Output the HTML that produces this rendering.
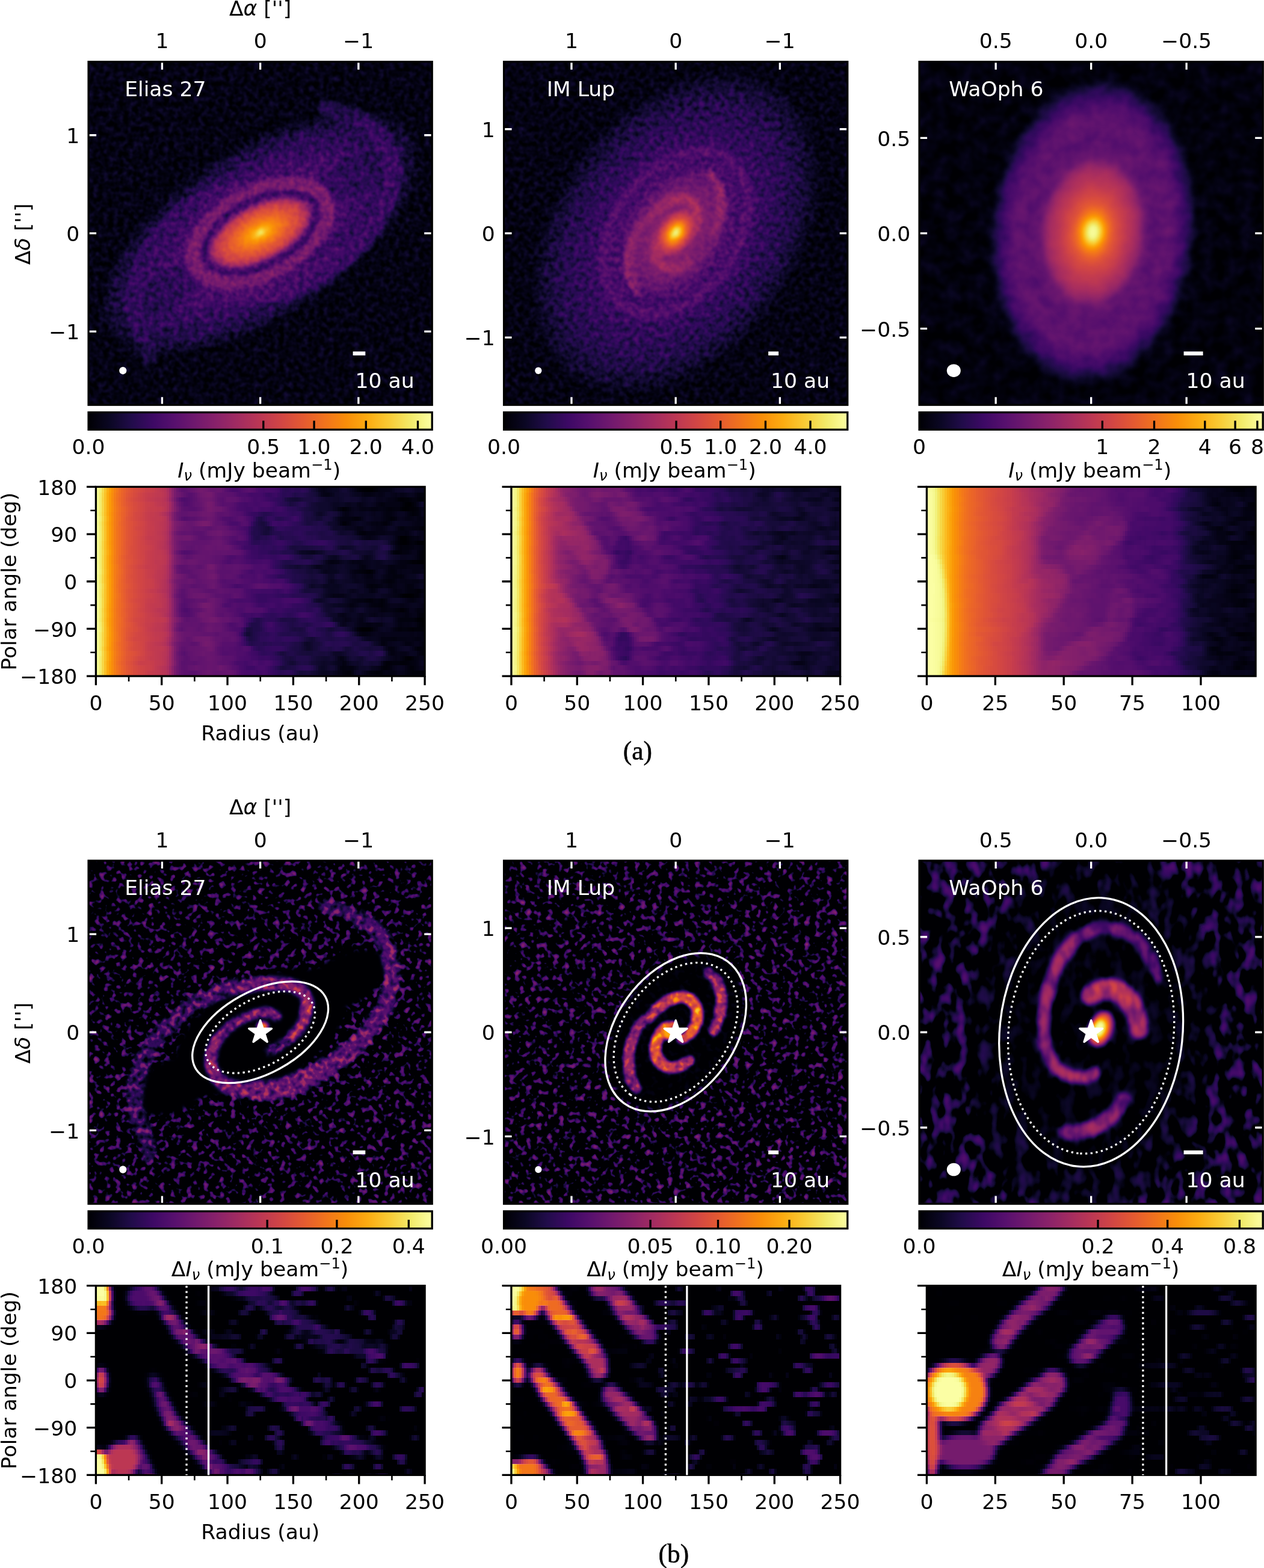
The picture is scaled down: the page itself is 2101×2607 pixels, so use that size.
<!DOCTYPE html>
<html lang="en"><head><meta charset="utf-8"><title>Spiral structure figure</title>
<style>html,body{margin:0;padding:0;background:#fff}svg{display:block}text{font-family:"DejaVu Sans","Liberation Sans",sans-serif;font-size:34.6px}.cap{font-family:"Liberation Serif","DejaVu Serif",serif;font-size:43.4px;stroke:#000;stroke-width:0.5px}</style></head><body>
<svg xmlns="http://www.w3.org/2000/svg" width="2101" height="2607" viewBox="0 0 2101 2607">
<defs><linearGradient id="inf" x1="0" x2="1" y1="0" y2="0"><stop offset="0" stop-color="#000004"/><stop offset="0.0625" stop-color="#0b0724"/><stop offset="0.125" stop-color="#210c4a"/><stop offset="0.1875" stop-color="#3d0965"/><stop offset="0.25" stop-color="#57106e"/><stop offset="0.3125" stop-color="#71196e"/><stop offset="0.375" stop-color="#8a226a"/><stop offset="0.4375" stop-color="#a32c61"/><stop offset="0.5" stop-color="#bc3754"/><stop offset="0.5625" stop-color="#d24644"/><stop offset="0.625" stop-color="#e45a31"/><stop offset="0.6875" stop-color="#f1731d"/><stop offset="0.75" stop-color="#f98e09"/><stop offset="0.8125" stop-color="#fcac11"/><stop offset="0.875" stop-color="#f9cb35"/><stop offset="0.9375" stop-color="#f2ea69"/><stop offset="1" stop-color="#fcffa4"/></linearGradient><filter id="cm" color-interpolation-filters="sRGB" filterUnits="userSpaceOnUse" x="-5" y="-5" width="600" height="600"><feComponentTransfer><feFuncR type="table" tableValues="0.001 0.014 0.042 0.082 0.129 0.183 0.238 0.291 0.342 0.391 0.441 0.491 0.541 0.591 0.64 0.689 0.736 0.781 0.822 0.861 0.894 0.923 0.947 0.965 0.978 0.986 0.988 0.984 0.975 0.961 0.948 0.955 0.988"/><feFuncG type="table" tableValues="0 0.011 0.028 0.043 0.047 0.04 0.037 0.046 0.062 0.081 0.099 0.117 0.135 0.153 0.171 0.192 0.216 0.243 0.275 0.312 0.353 0.399 0.449 0.502 0.558 0.616 0.675 0.736 0.798 0.859 0.917 0.966 0.998"/><feFuncB type="table" tableValues="0.014 0.072 0.141 0.215 0.291 0.355 0.396 0.419 0.429 0.433 0.432 0.426 0.415 0.4 0.381 0.358 0.33 0.3 0.266 0.231 0.194 0.155 0.115 0.074 0.035 0.026 0.065 0.13 0.206 0.298 0.411 0.54 0.645"/></feComponentTransfer></filter><filter id="px" filterUnits="userSpaceOnUse" x="0" y="0" width="550" height="324" color-interpolation-filters="sRGB"><feFlood x="2" y="4" width="1" height="1" flood-color="#000"/><feComposite width="5" height="9"/><feTile result="t"/><feComposite in="SourceGraphic" in2="t" operator="in"/><feMorphology operator="dilate" radius="2 4"/></filter><clipPath id="ci"><rect width="571.1" height="570.5"/></clipPath><clipPath id="cp"><rect width="546.7" height="314.7"/></clipPath><radialGradient id="a1o" cx="0" cy="0" r="1" gradientUnits="userSpaceOnUse"><stop offset="0" stop-color="#479900"/><stop offset="0.3" stop-color="#429900"/><stop offset="0.5" stop-color="#36b200"/><stop offset="0.7" stop-color="#2ab200"/><stop offset="0.85" stop-color="#1fb200"/><stop offset="0.95" stop-color="#129900"/><stop offset="1" stop-color="#088000"/></radialGradient><radialGradient id="a1i" cx="0" cy="0" r="1" gradientUnits="userSpaceOnUse"><stop offset="0" stop-color="#ff1a00"/><stop offset="0.04" stop-color="#f71a00"/><stop offset="0.1" stop-color="#db1a00"/><stop offset="0.25" stop-color="#c22600"/><stop offset="0.5" stop-color="#a83300"/><stop offset="0.75" stop-color="#914c00"/><stop offset="0.9" stop-color="#7d6600"/><stop offset="1" stop-color="#618000"/></radialGradient><linearGradient id="pa1" x1="0" x2="1" y1="0" y2="0"><stop offset="0" stop-color="#ff1a00"/><stop offset="0.012" stop-color="#f51a00"/><stop offset="0.032" stop-color="#d11a00"/><stop offset="0.06" stop-color="#b21a00"/><stop offset="0.1" stop-color="#991a00"/><stop offset="0.16" stop-color="#872600"/><stop offset="0.216" stop-color="#7d3300"/><stop offset="0.24" stop-color="#526600"/><stop offset="0.264" stop-color="#408000"/><stop offset="0.3" stop-color="#458000"/><stop offset="0.344" stop-color="#4c8000"/><stop offset="0.4" stop-color="#428000"/><stop offset="0.48" stop-color="#339900"/><stop offset="0.6" stop-color="#1f9900"/><stop offset="0.72" stop-color="#119900"/><stop offset="0.84" stop-color="#0b9900"/><stop offset="1" stop-color="#089900"/></linearGradient><radialGradient id="a2o" cx="0" cy="0" r="1" gradientUnits="userSpaceOnUse"><stop offset="0" stop-color="#479900"/><stop offset="0.3" stop-color="#409900"/><stop offset="0.45" stop-color="#33b200"/><stop offset="0.6" stop-color="#2ab200"/><stop offset="0.8" stop-color="#20b200"/><stop offset="0.92" stop-color="#149900"/><stop offset="1" stop-color="#088000"/></radialGradient><radialGradient id="a2i" cx="0" cy="0" r="1" gradientUnits="userSpaceOnUse"><stop offset="0" stop-color="#614c00"/><stop offset="0.5" stop-color="#594c00"/><stop offset="0.8" stop-color="#4f6600"/><stop offset="0.93" stop-color="#458000"/><stop offset="1" stop-color="#3d9900"/></radialGradient><radialGradient id="a2c" cx="0" cy="0" r="1" gradientUnits="userSpaceOnUse"><stop offset="0" stop-color="#ff1a00"/><stop offset="0.1" stop-color="#f71a00"/><stop offset="0.25" stop-color="#d91a00"/><stop offset="0.45" stop-color="#b22600"/><stop offset="0.7" stop-color="#8f3300"/><stop offset="0.9" stop-color="#784000"/><stop offset="1" stop-color="#6b4c00"/></radialGradient><linearGradient id="pa2" x1="0" x2="1" y1="0" y2="0"><stop offset="0" stop-color="#ff1a00"/><stop offset="0.016" stop-color="#f71a00"/><stop offset="0.032" stop-color="#d91a00"/><stop offset="0.056" stop-color="#b81a00"/><stop offset="0.08" stop-color="#991a00"/><stop offset="0.112" stop-color="#803300"/><stop offset="0.144" stop-color="#664c00"/><stop offset="0.192" stop-color="#546600"/><stop offset="0.24" stop-color="#4a8000"/><stop offset="0.3" stop-color="#428000"/><stop offset="0.4" stop-color="#3c8000"/><stop offset="0.5" stop-color="#369900"/><stop offset="0.6" stop-color="#2b9900"/><stop offset="0.68" stop-color="#1f9900"/><stop offset="0.8" stop-color="#179900"/><stop offset="1" stop-color="#129900"/></linearGradient><radialGradient id="a3o" cx="0" cy="0" r="1" gradientUnits="userSpaceOnUse"><stop offset="0" stop-color="#594c00"/><stop offset="0.45" stop-color="#4f4c00"/><stop offset="0.6" stop-color="#406600"/><stop offset="0.68" stop-color="#456600"/><stop offset="0.78" stop-color="#426600"/><stop offset="0.86" stop-color="#338000"/><stop offset="0.93" stop-color="#218000"/><stop offset="1" stop-color="#058000"/></radialGradient><radialGradient id="a3i" cx="0" cy="0" r="1" gradientUnits="userSpaceOnUse"><stop offset="0" stop-color="#ff0d00"/><stop offset="0.1" stop-color="#fa0d00"/><stop offset="0.17" stop-color="#db0d00"/><stop offset="0.26" stop-color="#b81a00"/><stop offset="0.4" stop-color="#9c1a00"/><stop offset="0.6" stop-color="#872600"/><stop offset="0.8" stop-color="#753300"/><stop offset="0.92" stop-color="#664000"/><stop offset="1" stop-color="#544c00"/></radialGradient><linearGradient id="pa3" x1="0" x2="1" y1="0" y2="0"><stop offset="0" stop-color="#ff0d00"/><stop offset="0.017" stop-color="#ff0d00"/><stop offset="0.042" stop-color="#e60d00"/><stop offset="0.075" stop-color="#c70d00"/><stop offset="0.117" stop-color="#ad1a00"/><stop offset="0.183" stop-color="#991a00"/><stop offset="0.25" stop-color="#8a1a00"/><stop offset="0.308" stop-color="#782600"/><stop offset="0.35" stop-color="#613300"/><stop offset="0.417" stop-color="#4f4c00"/><stop offset="0.517" stop-color="#474c00"/><stop offset="0.583" stop-color="#406600"/><stop offset="0.667" stop-color="#3b6600"/><stop offset="0.75" stop-color="#308000"/><stop offset="0.8" stop-color="#1a9900"/><stop offset="0.867" stop-color="#0d9900"/><stop offset="1" stop-color="#089900"/></linearGradient><linearGradient id="pb1m" x1="0" x2="1" y1="0" y2="0"><stop offset="0" stop-color="#000000"/><stop offset="0.3" stop-color="#000000"/><stop offset="0.42" stop-color="#008000"/><stop offset="0.55" stop-color="#00e600"/><stop offset="1" stop-color="#00e600"/></linearGradient><linearGradient id="pb2m" x1="0" x2="1" y1="0" y2="0"><stop offset="0" stop-color="#000000"/><stop offset="0.36" stop-color="#001a00"/><stop offset="0.5" stop-color="#00e600"/><stop offset="1" stop-color="#00ff00"/></linearGradient><linearGradient id="pb3m" x1="0" x2="1" y1="0" y2="0"><stop offset="0" stop-color="#000000"/><stop offset="0.6" stop-color="#001a00"/><stop offset="0.72" stop-color="#009900"/><stop offset="1" stop-color="#00cc00"/></linearGradient><filter id="na1" filterUnits="userSpaceOnUse" x="-30" y="-30" width="631.1" height="630.5" color-interpolation-filters="sRGB"><feGaussianBlur in="SourceGraphic" stdDeviation="3.0" result="S"/><feColorMatrix in="S" type="matrix" values="1 0 0 0 0 1 0 0 0 0 1 0 0 0 0 0 0 0 0 1" result="I"/><feColorMatrix in="S" type="matrix" values="0 1 0 0 0 0 1 0 0 0 0 1 0 0 0 0 0 0 0 1" result="M"/><feTurbulence type="fractalNoise" baseFrequency="0.12" numOctaves="2" seed="3" result="T"/><feGaussianBlur in="T" stdDeviation="1.0" result="T"/><feColorMatrix in="T" type="matrix" values="0.38 0 0 0 -0.19 0.38 0 0 0 -0.19 0.38 0 0 0 -0.19 0 0 0 0 1" result="P"/><feComposite in="P" in2="M" operator="arithmetic" k1="1" k2="0" k3="0" k4="0" result="PM"/><feComposite in="I" in2="PM" operator="arithmetic" k1="0" k2="1" k3="1" k4="0" result="O1"/><feColorMatrix in="T" type="matrix" values="-0.38 0 0 0 0.19 -0.38 0 0 0 0.19 -0.38 0 0 0 0.19 0 0 0 0 1" result="Q"/><feComposite in="Q" in2="M" operator="arithmetic" k1="1" k2="0" k3="0" k4="0"/><feColorMatrix type="matrix" values="-1 0 0 0 1 -1 0 0 0 1 -1 0 0 0 1 0 0 0 0 1" result="QM"/><feComposite in="O1" in2="QM" operator="arithmetic" k1="0" k2="1" k3="1" k4="-1" result="O2"/></filter><filter id="na2" filterUnits="userSpaceOnUse" x="-30" y="-30" width="631.1" height="630.5" color-interpolation-filters="sRGB"><feGaussianBlur in="SourceGraphic" stdDeviation="3.0" result="S"/><feColorMatrix in="S" type="matrix" values="1 0 0 0 0 1 0 0 0 0 1 0 0 0 0 0 0 0 0 1" result="I"/><feColorMatrix in="S" type="matrix" values="0 1 0 0 0 0 1 0 0 0 0 1 0 0 0 0 0 0 0 1" result="M"/><feTurbulence type="fractalNoise" baseFrequency="0.12" numOctaves="2" seed="7" result="T"/><feGaussianBlur in="T" stdDeviation="1.0" result="T"/><feColorMatrix in="T" type="matrix" values="0.38 0 0 0 -0.19 0.38 0 0 0 -0.19 0.38 0 0 0 -0.19 0 0 0 0 1" result="P"/><feComposite in="P" in2="M" operator="arithmetic" k1="1" k2="0" k3="0" k4="0" result="PM"/><feComposite in="I" in2="PM" operator="arithmetic" k1="0" k2="1" k3="1" k4="0" result="O1"/><feColorMatrix in="T" type="matrix" values="-0.38 0 0 0 0.19 -0.38 0 0 0 0.19 -0.38 0 0 0 0.19 0 0 0 0 1" result="Q"/><feComposite in="Q" in2="M" operator="arithmetic" k1="1" k2="0" k3="0" k4="0"/><feColorMatrix type="matrix" values="-1 0 0 0 1 -1 0 0 0 1 -1 0 0 0 1 0 0 0 0 1" result="QM"/><feComposite in="O1" in2="QM" operator="arithmetic" k1="0" k2="1" k3="1" k4="-1" result="O2"/></filter><filter id="na3" filterUnits="userSpaceOnUse" x="-30" y="-30" width="631.1" height="630.5" color-interpolation-filters="sRGB"><feGaussianBlur in="SourceGraphic" stdDeviation="5" result="S"/><feColorMatrix in="S" type="matrix" values="1 0 0 0 0 1 0 0 0 0 1 0 0 0 0 0 0 0 0 1" result="I"/><feColorMatrix in="S" type="matrix" values="0 1 0 0 0 0 1 0 0 0 0 1 0 0 0 0 0 0 0 1" result="M"/><feTurbulence type="fractalNoise" baseFrequency="0.045" numOctaves="2" seed="11" result="T"/><feColorMatrix in="T" type="matrix" values="0.22 0 0 0 -0.11 0.22 0 0 0 -0.11 0.22 0 0 0 -0.11 0 0 0 0 1" result="P"/><feComposite in="P" in2="M" operator="arithmetic" k1="1" k2="0" k3="0" k4="0" result="PM"/><feComposite in="I" in2="PM" operator="arithmetic" k1="0" k2="1" k3="1" k4="0" result="O1"/><feColorMatrix in="T" type="matrix" values="-0.22 0 0 0 0.11 -0.22 0 0 0 0.11 -0.22 0 0 0 0.11 0 0 0 0 1" result="Q"/><feComposite in="Q" in2="M" operator="arithmetic" k1="1" k2="0" k3="0" k4="0"/><feColorMatrix type="matrix" values="-1 0 0 0 1 -1 0 0 0 1 -1 0 0 0 1 0 0 0 0 1" result="QM"/><feComposite in="O1" in2="QM" operator="arithmetic" k1="0" k2="1" k3="1" k4="-1" result="O2"/></filter><filter id="npa1" filterUnits="userSpaceOnUse" x="-30" y="-30" width="606.7" height="374.7" color-interpolation-filters="sRGB"><feGaussianBlur in="SourceGraphic" stdDeviation="4" result="S"/><feColorMatrix in="S" type="matrix" values="1 0 0 0 0 1 0 0 0 0 1 0 0 0 0 0 0 0 0 1" result="I"/><feColorMatrix in="S" type="matrix" values="0 1 0 0 0 0 1 0 0 0 0 1 0 0 0 0 0 0 0 1" result="M"/><feTurbulence type="fractalNoise" baseFrequency="0.03 0.07" numOctaves="2" seed="5" result="T"/><feColorMatrix in="T" type="matrix" values="0.25 0 0 0 -0.125 0.25 0 0 0 -0.125 0.25 0 0 0 -0.125 0 0 0 0 1" result="P"/><feComposite in="P" in2="M" operator="arithmetic" k1="1" k2="0" k3="0" k4="0" result="PM"/><feComposite in="I" in2="PM" operator="arithmetic" k1="0" k2="1" k3="1" k4="0" result="O1"/><feColorMatrix in="T" type="matrix" values="-0.25 0 0 0 0.125 -0.25 0 0 0 0.125 -0.25 0 0 0 0.125 0 0 0 0 1" result="Q"/><feComposite in="Q" in2="M" operator="arithmetic" k1="1" k2="0" k3="0" k4="0"/><feColorMatrix type="matrix" values="-1 0 0 0 1 -1 0 0 0 1 -1 0 0 0 1 0 0 0 0 1" result="QM"/><feComposite in="O1" in2="QM" operator="arithmetic" k1="0" k2="1" k3="1" k4="-1" result="O2"/></filter><filter id="npa2" filterUnits="userSpaceOnUse" x="-30" y="-30" width="606.7" height="374.7" color-interpolation-filters="sRGB"><feGaussianBlur in="SourceGraphic" stdDeviation="4" result="S"/><feColorMatrix in="S" type="matrix" values="1 0 0 0 0 1 0 0 0 0 1 0 0 0 0 0 0 0 0 1" result="I"/><feColorMatrix in="S" type="matrix" values="0 1 0 0 0 0 1 0 0 0 0 1 0 0 0 0 0 0 0 1" result="M"/><feTurbulence type="fractalNoise" baseFrequency="0.03 0.07" numOctaves="2" seed="8" result="T"/><feColorMatrix in="T" type="matrix" values="0.25 0 0 0 -0.125 0.25 0 0 0 -0.125 0.25 0 0 0 -0.125 0 0 0 0 1" result="P"/><feComposite in="P" in2="M" operator="arithmetic" k1="1" k2="0" k3="0" k4="0" result="PM"/><feComposite in="I" in2="PM" operator="arithmetic" k1="0" k2="1" k3="1" k4="0" result="O1"/><feColorMatrix in="T" type="matrix" values="-0.25 0 0 0 0.125 -0.25 0 0 0 0.125 -0.25 0 0 0 0.125 0 0 0 0 1" result="Q"/><feComposite in="Q" in2="M" operator="arithmetic" k1="1" k2="0" k3="0" k4="0"/><feColorMatrix type="matrix" values="-1 0 0 0 1 -1 0 0 0 1 -1 0 0 0 1 0 0 0 0 1" result="QM"/><feComposite in="O1" in2="QM" operator="arithmetic" k1="0" k2="1" k3="1" k4="-1" result="O2"/></filter><filter id="npa3" filterUnits="userSpaceOnUse" x="-30" y="-30" width="606.7" height="374.7" color-interpolation-filters="sRGB"><feGaussianBlur in="SourceGraphic" stdDeviation="5" result="S"/><feColorMatrix in="S" type="matrix" values="1 0 0 0 0 1 0 0 0 0 1 0 0 0 0 0 0 0 0 1" result="I"/><feColorMatrix in="S" type="matrix" values="0 1 0 0 0 0 1 0 0 0 0 1 0 0 0 0 0 0 0 1" result="M"/><feTurbulence type="fractalNoise" baseFrequency="0.03 0.07" numOctaves="2" seed="9" result="T"/><feColorMatrix in="T" type="matrix" values="0.2 0 0 0 -0.1 0.2 0 0 0 -0.1 0.2 0 0 0 -0.1 0 0 0 0 1" result="P"/><feComposite in="P" in2="M" operator="arithmetic" k1="1" k2="0" k3="0" k4="0" result="PM"/><feComposite in="I" in2="PM" operator="arithmetic" k1="0" k2="1" k3="1" k4="0" result="O1"/><feColorMatrix in="T" type="matrix" values="-0.2 0 0 0 0.1 -0.2 0 0 0 0.1 -0.2 0 0 0 0.1 0 0 0 0 1" result="Q"/><feComposite in="Q" in2="M" operator="arithmetic" k1="1" k2="0" k3="0" k4="0"/><feColorMatrix type="matrix" values="-1 0 0 0 1 -1 0 0 0 1 -1 0 0 0 1 0 0 0 0 1" result="QM"/><feComposite in="O1" in2="QM" operator="arithmetic" k1="0" k2="1" k3="1" k4="-1" result="O2"/></filter><filter id="nb1" filterUnits="userSpaceOnUse" x="-30" y="-30" width="631.1" height="630.5" color-interpolation-filters="sRGB"><feGaussianBlur in="SourceGraphic" stdDeviation="3.0" result="S"/><feColorMatrix in="S" type="matrix" values="1 0 0 0 0 1 0 0 0 0 1 0 0 0 0 0 0 0 0 1" result="I"/><feColorMatrix in="S" type="matrix" values="0 1 0 0 0 0 1 0 0 0 0 1 0 0 0 0 0 0 0 1" result="M"/><feTurbulence type="fractalNoise" baseFrequency="0.11" numOctaves="2" seed="21" result="T"/><feGaussianBlur in="T" stdDeviation="1.2" result="T"/><feColorMatrix in="T" type="matrix" values="2.6 0 0 0 -1.417 2.6 0 0 0 -1.417 2.6 0 0 0 -1.417 0 0 0 0 1" result="P"/><feComponentTransfer in="P" result="P"><feFuncR type="table" tableValues="0 0.1 0.17 0.22 0.26 0.29 0.32 0.35 0.38 0.4 0.42"/><feFuncG type="table" tableValues="0 0.1 0.17 0.22 0.26 0.29 0.32 0.35 0.38 0.4 0.42"/><feFuncB type="table" tableValues="0 0.1 0.17 0.22 0.26 0.29 0.32 0.35 0.38 0.4 0.42"/></feComponentTransfer><feComposite in="P" in2="M" operator="arithmetic" k1="1" k2="0" k3="0" k4="0" result="PM"/><feComposite in="I" in2="PM" operator="arithmetic" k1="0" k2="1" k3="1" k4="0" result="O1"/><feColorMatrix in="T" type="matrix" values="-0.9 0 0 0 0.45 -0.9 0 0 0 0.45 -0.9 0 0 0 0.45 0 0 0 0 1" result="Q"/><feComposite in="Q" in2="M" operator="arithmetic" k1="1" k2="0" k3="0" k4="0"/><feColorMatrix type="matrix" values="-1 0 0 0 1 -1 0 0 0 1 -1 0 0 0 1 0 0 0 0 1" result="QM"/><feComposite in="O1" in2="QM" operator="arithmetic" k1="0" k2="1" k3="1" k4="-1" result="O2"/></filter><filter id="nb2" filterUnits="userSpaceOnUse" x="-30" y="-30" width="631.1" height="630.5" color-interpolation-filters="sRGB"><feGaussianBlur in="SourceGraphic" stdDeviation="2.5" result="S"/><feColorMatrix in="S" type="matrix" values="1 0 0 0 0 1 0 0 0 0 1 0 0 0 0 0 0 0 0 1" result="I"/><feColorMatrix in="S" type="matrix" values="0 1 0 0 0 0 1 0 0 0 0 1 0 0 0 0 0 0 0 1" result="M"/><feTurbulence type="fractalNoise" baseFrequency="0.11" numOctaves="2" seed="31" result="T"/><feGaussianBlur in="T" stdDeviation="1.2" result="T"/><feColorMatrix in="T" type="matrix" values="2.7 0 0 0 -1.458 2.7 0 0 0 -1.458 2.7 0 0 0 -1.458 0 0 0 0 1" result="P"/><feComponentTransfer in="P" result="P"><feFuncR type="table" tableValues="0 0.1 0.17 0.22 0.26 0.29 0.32 0.35 0.38 0.4 0.42"/><feFuncG type="table" tableValues="0 0.1 0.17 0.22 0.26 0.29 0.32 0.35 0.38 0.4 0.42"/><feFuncB type="table" tableValues="0 0.1 0.17 0.22 0.26 0.29 0.32 0.35 0.38 0.4 0.42"/></feComponentTransfer><feComposite in="P" in2="M" operator="arithmetic" k1="1" k2="0" k3="0" k4="0" result="PM"/><feComposite in="I" in2="PM" operator="arithmetic" k1="0" k2="1" k3="1" k4="0" result="O1"/><feColorMatrix in="T" type="matrix" values="-0.9 0 0 0 0.45 -0.9 0 0 0 0.45 -0.9 0 0 0 0.45 0 0 0 0 1" result="Q"/><feComposite in="Q" in2="M" operator="arithmetic" k1="1" k2="0" k3="0" k4="0"/><feColorMatrix type="matrix" values="-1 0 0 0 1 -1 0 0 0 1 -1 0 0 0 1 0 0 0 0 1" result="QM"/><feComposite in="O1" in2="QM" operator="arithmetic" k1="0" k2="1" k3="1" k4="-1" result="O2"/></filter><filter id="nb3" filterUnits="userSpaceOnUse" x="-30" y="-30" width="631.1" height="630.5" color-interpolation-filters="sRGB"><feGaussianBlur in="SourceGraphic" stdDeviation="4.5" result="S"/><feColorMatrix in="S" type="matrix" values="1 0 0 0 0 1 0 0 0 0 1 0 0 0 0 0 0 0 0 1" result="I"/><feColorMatrix in="S" type="matrix" values="0 1 0 0 0 0 1 0 0 0 0 1 0 0 0 0 0 0 0 1" result="M"/><feTurbulence type="fractalNoise" baseFrequency="0.05 0.033" numOctaves="2" seed="41" result="T"/><feColorMatrix in="T" type="matrix" values="1.6 0 0 0 -0.8 1.6 0 0 0 -0.8 1.6 0 0 0 -0.8 0 0 0 0 1" result="P"/><feComponentTransfer in="P" result="P"><feFuncR type="table" tableValues="0 0.09 0.14 0.18 0.21 0.23 0.25 0.26 0.27 0.28 0.29"/><feFuncG type="table" tableValues="0 0.09 0.14 0.18 0.21 0.23 0.25 0.26 0.27 0.28 0.29"/><feFuncB type="table" tableValues="0 0.09 0.14 0.18 0.21 0.23 0.25 0.26 0.27 0.28 0.29"/></feComponentTransfer><feComposite in="P" in2="M" operator="arithmetic" k1="1" k2="0" k3="0" k4="0" result="PM"/><feComposite in="I" in2="PM" operator="arithmetic" k1="0" k2="1" k3="1" k4="0" result="O1"/><feColorMatrix in="T" type="matrix" values="-1 0 0 0 0.5 -1 0 0 0 0.5 -1 0 0 0 0.5 0 0 0 0 1" result="Q"/><feComposite in="Q" in2="M" operator="arithmetic" k1="1" k2="0" k3="0" k4="0"/><feColorMatrix type="matrix" values="-1 0 0 0 1 -1 0 0 0 1 -1 0 0 0 1 0 0 0 0 1" result="QM"/><feComposite in="O1" in2="QM" operator="arithmetic" k1="0" k2="1" k3="1" k4="-1" result="O2"/></filter><filter id="npb1" filterUnits="userSpaceOnUse" x="-30" y="-30" width="606.7" height="374.7" color-interpolation-filters="sRGB"><feGaussianBlur in="SourceGraphic" stdDeviation="4.0" result="S"/><feColorMatrix in="S" type="matrix" values="1 0 0 0 0 1 0 0 0 0 1 0 0 0 0 0 0 0 0 1" result="I"/><feColorMatrix in="S" type="matrix" values="0 1 0 0 0 0 1 0 0 0 0 1 0 0 0 0 0 0 0 1" result="M"/><feTurbulence type="fractalNoise" baseFrequency="0.025 0.08" numOctaves="2" seed="51" result="T"/><feColorMatrix in="T" type="matrix" values="2 0 0 0 -1.22 2 0 0 0 -1.22 2 0 0 0 -1.22 0 0 0 0 1" result="P"/><feComponentTransfer in="P" result="P"><feFuncR type="table" tableValues="0 0.1 0.16 0.2 0.23 0.25 0.27 0.28 0.29 0.3 0.3"/><feFuncG type="table" tableValues="0 0.1 0.16 0.2 0.23 0.25 0.27 0.28 0.29 0.3 0.3"/><feFuncB type="table" tableValues="0 0.1 0.16 0.2 0.23 0.25 0.27 0.28 0.29 0.3 0.3"/></feComponentTransfer><feComposite in="P" in2="M" operator="arithmetic" k1="1" k2="0" k3="0" k4="0" result="PM"/><feComposite in="I" in2="PM" operator="arithmetic" k1="0" k2="1" k3="1" k4="0" result="O1"/><feColorMatrix in="T" type="matrix" values="-0.8 0 0 0 0.4 -0.8 0 0 0 0.4 -0.8 0 0 0 0.4 0 0 0 0 1" result="Q"/><feComposite in="Q" in2="M" operator="arithmetic" k1="1" k2="0" k3="0" k4="0"/><feColorMatrix type="matrix" values="-1 0 0 0 1 -1 0 0 0 1 -1 0 0 0 1 0 0 0 0 1" result="QM"/><feComposite in="O1" in2="QM" operator="arithmetic" k1="0" k2="1" k3="1" k4="-1" result="O2"/></filter><filter id="npb2" filterUnits="userSpaceOnUse" x="-30" y="-30" width="606.7" height="374.7" color-interpolation-filters="sRGB"><feGaussianBlur in="SourceGraphic" stdDeviation="4.0" result="S"/><feColorMatrix in="S" type="matrix" values="1 0 0 0 0 1 0 0 0 0 1 0 0 0 0 0 0 0 0 1" result="I"/><feColorMatrix in="S" type="matrix" values="0 1 0 0 0 0 1 0 0 0 0 1 0 0 0 0 0 0 0 1" result="M"/><feTurbulence type="fractalNoise" baseFrequency="0.025 0.08" numOctaves="2" seed="61" result="T"/><feColorMatrix in="T" type="matrix" values="2 0 0 0 -1.18 2 0 0 0 -1.18 2 0 0 0 -1.18 0 0 0 0 1" result="P"/><feComponentTransfer in="P" result="P"><feFuncR type="table" tableValues="0 0.1 0.17 0.21 0.24 0.26 0.28 0.29 0.3 0.31 0.32"/><feFuncG type="table" tableValues="0 0.1 0.17 0.21 0.24 0.26 0.28 0.29 0.3 0.31 0.32"/><feFuncB type="table" tableValues="0 0.1 0.17 0.21 0.24 0.26 0.28 0.29 0.3 0.31 0.32"/></feComponentTransfer><feComposite in="P" in2="M" operator="arithmetic" k1="1" k2="0" k3="0" k4="0" result="PM"/><feComposite in="I" in2="PM" operator="arithmetic" k1="0" k2="1" k3="1" k4="0" result="O1"/><feColorMatrix in="T" type="matrix" values="-0.8 0 0 0 0.4 -0.8 0 0 0 0.4 -0.8 0 0 0 0.4 0 0 0 0 1" result="Q"/><feComposite in="Q" in2="M" operator="arithmetic" k1="1" k2="0" k3="0" k4="0"/><feColorMatrix type="matrix" values="-1 0 0 0 1 -1 0 0 0 1 -1 0 0 0 1 0 0 0 0 1" result="QM"/><feComposite in="O1" in2="QM" operator="arithmetic" k1="0" k2="1" k3="1" k4="-1" result="O2"/></filter><filter id="npb3" filterUnits="userSpaceOnUse" x="-30" y="-30" width="606.7" height="374.7" color-interpolation-filters="sRGB"><feGaussianBlur in="SourceGraphic" stdDeviation="4.5" result="S"/><feColorMatrix in="S" type="matrix" values="1 0 0 0 0 1 0 0 0 0 1 0 0 0 0 0 0 0 0 1" result="I"/><feColorMatrix in="S" type="matrix" values="0 1 0 0 0 0 1 0 0 0 0 1 0 0 0 0 0 0 0 1" result="M"/><feTurbulence type="fractalNoise" baseFrequency="0.025 0.08" numOctaves="2" seed="71" result="T"/><feColorMatrix in="T" type="matrix" values="1.5 0 0 0 -0.9 1.5 0 0 0 -0.9 1.5 0 0 0 -0.9 0 0 0 0 1" result="P"/><feComponentTransfer in="P" result="P"><feFuncR type="table" tableValues="0 0.08 0.13 0.17 0.2 0.22 0.24 0.25 0.26 0.27 0.28"/><feFuncG type="table" tableValues="0 0.08 0.13 0.17 0.2 0.22 0.24 0.25 0.26 0.27 0.28"/><feFuncB type="table" tableValues="0 0.08 0.13 0.17 0.2 0.22 0.24 0.25 0.26 0.27 0.28"/></feComponentTransfer><feComposite in="P" in2="M" operator="arithmetic" k1="1" k2="0" k3="0" k4="0" result="PM"/><feComposite in="I" in2="PM" operator="arithmetic" k1="0" k2="1" k3="1" k4="0" result="O1"/><feColorMatrix in="T" type="matrix" values="-0.8 0 0 0 0.4 -0.8 0 0 0 0.4 -0.8 0 0 0 0.4 0 0 0 0 1" result="Q"/><feComposite in="Q" in2="M" operator="arithmetic" k1="1" k2="0" k3="0" k4="0"/><feColorMatrix type="matrix" values="-1 0 0 0 1 -1 0 0 0 1 -1 0 0 0 1 0 0 0 0 1" result="QM"/><feComposite in="O1" in2="QM" operator="arithmetic" k1="0" k2="1" k3="1" k4="-1" result="O2"/></filter></defs>
<rect width="2101" height="2607" fill="#fff"/>
<g transform="translate(147.1 102.7)">
<g clip-path="url(#ci)"><g filter="url(#cm)"><g filter="url(#na1)"><rect x="-30" y="-30" width="631.1" height="630.5" fill="#088000"/><circle r="1" fill="url(#a1o)" transform="translate(285.55 284.25) rotate(-33) scale(305 142)"/><ellipse cx="435.55" cy="192.25" rx="70" ry="30" fill="#1a9900" transform="rotate(-30 435.55 192.25)" opacity="0.45"/><ellipse cx="135.55" cy="376.25" rx="70" ry="30" fill="#1a9900" transform="rotate(-30 135.55 376.25)" opacity="0.45"/><g opacity=".55" style="mix-blend-mode:lighten"><path d="M312.1 259L310.2 256.8L307.6 255L304.3 253.5L300.4 252.4L295.9 251.8" fill="none" stroke="#469900" stroke-width="16.85" stroke-linecap="round" stroke-linejoin="round"/><path d="M295.9 251.8L291.3 252L286.4 252.6L281.2 253.7L275.7 255.2L270.1 257.2" fill="none" stroke="#459900" stroke-width="16.85" stroke-linecap="round" stroke-linejoin="round"/><path d="M270.1 257.2L263.5 259.6L256.7 262.6L249.8 266.3" fill="none" stroke="#409900" stroke-width="16.85" stroke-linecap="round" stroke-linejoin="round"/><path d="M249.8 266.3L242.5 270.7L235.3 275.8L228.5 281.5L222.2 287.7L216.5 294.4" fill="none" stroke="#409900" stroke-width="17.78" stroke-linecap="round" stroke-linejoin="round"/><path d="M216.5 294.4L212.5 300.3L209.2 306.5L206.6 312.7L205 318.8L204.2 324.9" fill="none" stroke="#4a9900" stroke-width="19.66" stroke-linecap="round" stroke-linejoin="round"/><path d="M204.2 324.9L203.2 332.6L203.7 340.1L205.9 347.2L209.7 353.7" fill="none" stroke="#4b9900" stroke-width="21.53" stroke-linecap="round" stroke-linejoin="round"/><path d="M209.7 353.7L214 361.5L220.7 368.4L229.8 374" fill="none" stroke="#429900" stroke-width="24.34" stroke-linecap="round" stroke-linejoin="round"/><path d="M229.8 374L239.3 378L250.6 380.7L263.6 382.1L278.1 382.1" fill="none" stroke="#409900" stroke-width="29.95" stroke-linecap="round" stroke-linejoin="round"/><path d="M278.1 382.1L297.6 382.5L319.8 380.2" fill="none" stroke="#409900" stroke-width="37.44" stroke-linecap="round" stroke-linejoin="round"/><path d="M319.8 380.2L338.7 373.6L358 365.4L377.5 355.6L396.7 344.3" fill="none" stroke="#3e9900" stroke-width="39.31" stroke-linecap="round" stroke-linejoin="round"/><path d="M396.7 344.3L418.3 329.1L438.7 312.3L457.5 293.9" fill="none" stroke="#3b9900" stroke-width="34.63" stroke-linecap="round" stroke-linejoin="round"/><path d="M457.5 293.9L473.7 273.6L487.1 252.7L497.2 231.4" fill="none" stroke="#399900" stroke-width="30.89" stroke-linecap="round" stroke-linejoin="round"/><path d="M497.2 231.4L502.5 214.3L505.2 197.5L505.3 181.3L502.6 165.9" fill="none" stroke="#399900" stroke-width="29.95" stroke-linecap="round" stroke-linejoin="round"/><path d="M502.6 165.9L499.3 150.9L493.3 136.9L484.4 124" fill="none" stroke="#399900" stroke-width="29.95" stroke-linecap="round" stroke-linejoin="round"/><path d="M484.4 124L467.9 107.3L445.6 94" fill="none" stroke="#369900" stroke-width="29.02" stroke-linecap="round" stroke-linejoin="round"/><path d="M445.6 94L422.5 83.7L394.9 76.8" fill="none" stroke="#309900" stroke-width="27.14" stroke-linecap="round" stroke-linejoin="round"/><path d="M302.5 316.1L309.4 313L316.2 309.3L322.9 305.1L329.3 300.4L335.3 295.3L340.9 289.8" fill="none" stroke="#329900" stroke-width="17.78" stroke-linecap="round" stroke-linejoin="round"/><path d="M340.9 289.8L346.3 284.1L351 278L355 271.8L358.1 265.4L360.3 259L361.5 252.7" fill="none" stroke="#4b9900" stroke-width="19.66" stroke-linecap="round" stroke-linejoin="round"/><path d="M361.5 252.7L363.4 245.4L363.9 238.1L362.9 231.1L360.4 224.6L356.2 218.6" fill="none" stroke="#529900" stroke-width="21.53" stroke-linecap="round" stroke-linejoin="round"/><path d="M356.2 218.6L350.1 213.6L342.5 209.5L333.4 206.5L322.7 204.7L310.8 204.1" fill="none" stroke="#479900" stroke-width="23.4" stroke-linecap="round" stroke-linejoin="round"/><path d="M310.8 204.1L299.3 203.5L286.6 204.1L272.8 206L258.1 209.3" fill="none" stroke="#429900" stroke-width="25.27" stroke-linecap="round" stroke-linejoin="round"/><path d="M258.1 209.3L241.7 211.1L223.8 214.9" fill="none" stroke="#3c9900" stroke-width="27.14" stroke-linecap="round" stroke-linejoin="round"/><path d="M223.8 214.9L206.4 221.9L188.6 230.6L170.8 240.7" fill="none" stroke="#369900" stroke-width="29.02" stroke-linecap="round" stroke-linejoin="round"/><path d="M170.8 240.7L154.6 253.3L139.5 267L125.5 281.5L113.1 296.7" fill="none" stroke="#319900" stroke-width="30.89" stroke-linecap="round" stroke-linejoin="round"/><path d="M113.1 296.7L102 312.4L92.9 328.5L85.9 344.8L81.1 361" fill="none" stroke="#2f9900" stroke-width="31.82" stroke-linecap="round" stroke-linejoin="round"/><path d="M81.1 361L76.8 378.8L75.6 396.3L77.6 413.1" fill="none" stroke="#2e9900" stroke-width="31.82" stroke-linecap="round" stroke-linejoin="round"/><path d="M77.6 413.1L81.7 432.4L90.6 450.2" fill="none" stroke="#2e9900" stroke-width="30.89" stroke-linecap="round" stroke-linejoin="round"/><path d="M90.6 450.2L98.9 473.6" fill="none" stroke="#2d9900" stroke-width="29.02" stroke-linecap="round" stroke-linejoin="round"/><path d="M98.9 473.6L99.4 491.7" fill="none" stroke="#2b9900" stroke-width="27.14" stroke-linecap="round" stroke-linejoin="round"/></g><ellipse cx="285.55" cy="284.25" rx="122" ry="65.88" fill="none" stroke="#549900" stroke-width="24" transform="rotate(-27 285.55 284.25)"/><ellipse cx="285.55" cy="284.25" rx="102" ry="55.08" fill="none" stroke="#2b9900" stroke-width="9" transform="rotate(-27 285.55 284.25)"/><circle r="1" fill="url(#a1i)" transform="translate(285.55 284.25) rotate(-27) scale(90 45)"/></g></g></g>
</g>
<path d="M269.45 102.7v13.0M269.45 673.2v-13.0M147.1 224.75h13.0M718.2 224.75h-13.0M432.65 102.7v13.0M432.65 673.2v-13.0M147.1 387.95h13.0M718.2 387.95h-13.0M595.85 102.7v13.0M595.85 673.2v-13.0M147.1 551.15h13.0M718.2 551.15h-13.0" stroke="#fff" stroke-width="3.3"/>
<rect x="147.1" y="102.7" width="571.1" height="570.5" fill="none" stroke="#000" stroke-width="3.3"/>
<text x="269.45" y="80.2" text-anchor="middle">1</text>
<text x="432.65" y="80.2" text-anchor="middle">0</text>
<text x="595.85" y="80.2" text-anchor="middle">−1</text>
<text x="132.3" y="237.85" text-anchor="end">1</text>
<text x="132.3" y="401.05" text-anchor="end">0</text>
<text x="132.3" y="564.25" text-anchor="end">−1</text>
<text x="274.9" y="159.8" text-anchor="middle" fill="#fff">Elias 27</text>
<rect x="586.6" y="584.4" width="20.7" height="6.5" fill="#fff"/>
<text x="590.6" y="645.4" fill="#fff">10 au</text>
<ellipse cx="204.3" cy="616.2" rx="6.05" ry="6.25" fill="#fff" transform="rotate(0 204.3 616.2)"/>
<text x="432.65" y="25.9" text-anchor="middle">Δ<tspan font-style="italic">α</tspan> ['']</text>
<text transform="translate(49.5 389.25) rotate(-90)" text-anchor="middle">Δ<tspan font-style="italic">δ</tspan> ['']</text>
<rect x="147.1" y="685.6" width="571.1" height="28.7" fill="url(#inf)" stroke="#000" stroke-width="3.3"/>
<text x="147.1" y="755.4" text-anchor="middle">0.0</text>
<text x="437.8" y="755.4" text-anchor="middle">0.5</text>
<text x="522.1" y="755.4" text-anchor="middle">1.0</text>
<text x="608.3" y="755.4" text-anchor="middle">2.0</text>
<text x="694.5" y="755.4" text-anchor="middle">4.0</text>
<path d="M437.8 714.3v-14.7M522.1 714.3v-14.7M608.3 714.3v-14.7M694.5 714.3v-14.7" stroke="#000" stroke-width="3.3"/>
<text x="430.75" y="793.6" text-anchor="middle"><tspan font-style="italic">I</tspan><tspan font-style="italic" font-size="24.22" dy="5.6">ν</tspan><tspan dy="-5.6"> (mJy beam</tspan><tspan font-size="24.22" dy="-12.5">−1</tspan><tspan dy="12.5">)</tspan></text>
<g transform="translate(159.4 809.4)">
<g clip-path="url(#cp)"><g filter="url(#px)"><g filter="url(#cm)"><g filter="url(#npa1)"><rect x="-30" y="-30" width="606.7" height="374.7" fill="#ff0000"/><rect x="0" y="-30" width="546.7" height="374.7" fill="url(#pa1)"/><rect x="545.7" y="-30" width="31" height="374.7" fill="#089900"/><ellipse cx="273.35" cy="74.3" rx="20" ry="24" fill="#1a9900" opacity="0.8"/><ellipse cx="266.79" cy="244.77" rx="22" ry="24" fill="#1a9900" opacity="0.8"/><ellipse cx="437.36" cy="104.9" rx="40" ry="60" fill="#0a9900" opacity="0.6"/><g opacity="0.4" style="mix-blend-mode:lighten"><path d="M61.2 259.6L76.5 288.5" fill="none" stroke="#4b8000" stroke-width="22.04" stroke-linecap="round" stroke-linejoin="round"/><path d="M76.5 288.5L87.5 314.7" fill="none" stroke="#4a8000" stroke-width="22.04" stroke-linecap="round" stroke-linejoin="round"/><path d="M76.5 -26.2L87.5 0" fill="none" stroke="#4a8000" stroke-width="22.04" stroke-linecap="round" stroke-linejoin="round"/><path d="M87.5 314.7L98.4 332.2" fill="none" stroke="#458000" stroke-width="22.04" stroke-linecap="round" stroke-linejoin="round"/><path d="M87.5 0L98.4 17.5" fill="none" stroke="#458000" stroke-width="22.04" stroke-linecap="round" stroke-linejoin="round"/><path d="M98.4 17.5L120.3 48.1" fill="none" stroke="#458000" stroke-width="23.27" stroke-linecap="round" stroke-linejoin="round"/><path d="M120.3 48.1L137.8 74.3" fill="none" stroke="#4f8000" stroke-width="25.72" stroke-linecap="round" stroke-linejoin="round"/><path d="M137.8 74.3L164 98.8" fill="none" stroke="#508000" stroke-width="28.17" stroke-linecap="round" stroke-linejoin="round"/><path d="M164 98.8L196.8 118" fill="none" stroke="#478000" stroke-width="31.84" stroke-linecap="round" stroke-linejoin="round"/><path d="M196.8 118L236.2 139.9" fill="none" stroke="#458000" stroke-width="39.19" stroke-linecap="round" stroke-linejoin="round"/><path d="M236.2 139.9L273.4 153" fill="none" stroke="#458000" stroke-width="48.98" stroke-linecap="round" stroke-linejoin="round"/><path d="M273.4 153L306.2 174.8" fill="none" stroke="#448000" stroke-width="51.43" stroke-linecap="round" stroke-linejoin="round"/><path d="M306.2 174.8L332.4 194.1" fill="none" stroke="#408000" stroke-width="45.31" stroke-linecap="round" stroke-linejoin="round"/><path d="M332.4 194.1L354.3 214.2" fill="none" stroke="#3e8000" stroke-width="40.41" stroke-linecap="round" stroke-linejoin="round"/><path d="M354.3 214.2L376.1 236" fill="none" stroke="#3e8000" stroke-width="39.19" stroke-linecap="round" stroke-linejoin="round"/><path d="M376.1 236L402.4 251.8" fill="none" stroke="#3e8000" stroke-width="39.19" stroke-linecap="round" stroke-linejoin="round"/><path d="M402.4 251.8L430.8 266.6" fill="none" stroke="#3b8000" stroke-width="37.96" stroke-linecap="round" stroke-linejoin="round"/><path d="M430.8 266.6L463.6 279.7" fill="none" stroke="#358000" stroke-width="35.51" stroke-linecap="round" stroke-linejoin="round"/><path d="M96.2 157.3L109.3 192.3" fill="none" stroke="#378000" stroke-width="23.27" stroke-linecap="round" stroke-linejoin="round"/><path d="M109.3 192.3L126.8 227.3" fill="none" stroke="#508000" stroke-width="25.72" stroke-linecap="round" stroke-linejoin="round"/><path d="M126.8 227.3L157.4 257.9" fill="none" stroke="#578000" stroke-width="28.17" stroke-linecap="round" stroke-linejoin="round"/><path d="M157.4 257.9L185.9 288.5" fill="none" stroke="#4d8000" stroke-width="30.62" stroke-linecap="round" stroke-linejoin="round"/><path d="M185.9 288.5L218.7 310.3" fill="none" stroke="#478000" stroke-width="33.06" stroke-linecap="round" stroke-linejoin="round"/><path d="M185.9 -26.2L218.7 -4.4" fill="none" stroke="#478000" stroke-width="33.06" stroke-linecap="round" stroke-linejoin="round"/><path d="M218.7 310.3L251.5 320.8" fill="none" stroke="#418000" stroke-width="35.51" stroke-linecap="round" stroke-linejoin="round"/><path d="M218.7 -4.4L251.5 6.1" fill="none" stroke="#418000" stroke-width="35.51" stroke-linecap="round" stroke-linejoin="round"/><path d="M251.5 6.1L284.3 21.9" fill="none" stroke="#3b8000" stroke-width="37.96" stroke-linecap="round" stroke-linejoin="round"/><path d="M284.3 21.9L310.5 43.7" fill="none" stroke="#368000" stroke-width="40.41" stroke-linecap="round" stroke-linejoin="round"/><path d="M310.5 43.7L339 65.6" fill="none" stroke="#348000" stroke-width="41.64" stroke-linecap="round" stroke-linejoin="round"/><path d="M339 65.6L371.8 83" fill="none" stroke="#338000" stroke-width="41.64" stroke-linecap="round" stroke-linejoin="round"/><path d="M371.8 83L404.6 96.2" fill="none" stroke="#338000" stroke-width="40.41" stroke-linecap="round" stroke-linejoin="round"/><path d="M404.6 96.2L437.4 103.2" fill="none" stroke="#328000" stroke-width="37.96" stroke-linecap="round" stroke-linejoin="round"/><path d="M437.4 103.2L470.2 106.6" fill="none" stroke="#308000" stroke-width="35.51" stroke-linecap="round" stroke-linejoin="round"/></g></g></g></g></g>
</g>
<rect x="159.4" y="809.4" width="546.7" height="314.7" fill="none" stroke="#000" stroke-width="3.3"/>
<text x="128.2" y="822.5" text-anchor="end">180</text>
<text x="128.2" y="901.17" text-anchor="end">90</text>
<text x="128.2" y="979.85" text-anchor="end">0</text>
<text x="128.2" y="1058.52" text-anchor="end">−90</text>
<text x="128.2" y="1137.2" text-anchor="end">−180</text>
<text x="159.4" y="1180.7" text-anchor="middle">0</text>
<text x="268.74" y="1180.7" text-anchor="middle">50</text>
<text x="378.08" y="1180.7" text-anchor="middle">100</text>
<text x="487.42" y="1180.7" text-anchor="middle">150</text>
<text x="596.76" y="1180.7" text-anchor="middle">200</text>
<text x="706.1" y="1180.7" text-anchor="middle">250</text>
<path d="M159.4 809.4h-15.4M159.4 888.07h-15.4M159.4 966.75h-15.4M159.4 1045.42h-15.4M159.4 1124.1h-15.4M159.4 1124.1v15.2M268.74 1124.1v15.2M378.08 1124.1v15.2M487.42 1124.1v15.2M596.76 1124.1v15.2M706.1 1124.1v15.2" stroke="#000" stroke-width="3.3"/>
<path d="M159.4 848.74h-9.1M159.4 927.41h-9.1M159.4 1006.09h-9.1M159.4 1084.76h-9.1M214.07 1124.1v8.8M323.41 1124.1v8.8M432.75 1124.1v8.8M542.09 1124.1v8.8M651.43 1124.1v8.8" stroke="#000" stroke-width="2.6"/>
<text x="432.75" y="1230.7" text-anchor="middle">Radius (au)</text>
<text transform="translate(26.7 966.75) rotate(-90)" text-anchor="middle">Polar angle (deg)</text>
<g transform="translate(837.6 102.7)">
<g clip-path="url(#ci)"><g filter="url(#cm)"><g filter="url(#na2)"><rect x="-30" y="-30" width="631.1" height="630.5" fill="#088000"/><circle r="1" fill="url(#a2o)" transform="translate(285.55 284.25) rotate(-54) scale(300 204)"/><ellipse cx="285.55" cy="284.25" rx="150" ry="102" fill="none" stroke="#3d9900" stroke-width="16" transform="rotate(-54 285.55 284.25)"/><circle r="1" fill="url(#a2i)" transform="translate(285.55 284.25) rotate(-54) scale(110 74.8)"/><g opacity=".85" style="mix-blend-mode:lighten"><path d="M279 274.9L275.8 274.9L272.3 275.8L268.5 277.6" fill="none" stroke="#776600" stroke-width="14.28" stroke-linecap="round" stroke-linejoin="round"/><path d="M268.5 277.6L265.9 279.9L263.3 282.7L260.9 285.8L258.7 289.3L256.8 293" fill="none" stroke="#796600" stroke-width="16.25" stroke-linecap="round" stroke-linejoin="round"/><path d="M256.8 293L255 296.9L253.5 301L252.4 305.2L251.8 309.6L251.6 313.9" fill="none" stroke="#786600" stroke-width="16.74" stroke-linecap="round" stroke-linejoin="round"/><path d="M251.6 313.9L251.9 318.6L252.8 323.1L254.3 327.4L256.5 331.4L259.3 335" fill="none" stroke="#756600" stroke-width="16.74" stroke-linecap="round" stroke-linejoin="round"/><path d="M259.3 335L263.5 338.8L268.5 341.8L274.5 343.7" fill="none" stroke="#716600" stroke-width="16.74" stroke-linecap="round" stroke-linejoin="round"/><path d="M274.5 343.7L280.5 343.8L286.8 343.1L293.4 341.4" fill="none" stroke="#6e6600" stroke-width="16.25" stroke-linecap="round" stroke-linejoin="round"/><path d="M293.4 341.4L300.9 337.3L308.1 332.2" fill="none" stroke="#686600" stroke-width="14.77" stroke-linecap="round" stroke-linejoin="round"/><path d="M295.1 296.9L297.6 296L300.2 294.8L302.9 293.1L305.6 290.9L308.2 288.3" fill="none" stroke="#726600" stroke-width="12.31" stroke-linecap="round" stroke-linejoin="round"/><path d="M308.2 288.3L311.3 284.9L314.1 281L316.6 276.6L318.8 271.9L320.4 266.8" fill="none" stroke="#776600" stroke-width="15.75" stroke-linecap="round" stroke-linejoin="round"/><path d="M320.4 266.8L321.4 261.7L321.7 256.5L321.4 251.4L320.4 246.4L318.6 241.7L316.1 237.4" fill="none" stroke="#786600" stroke-width="16.74" stroke-linecap="round" stroke-linejoin="round"/><path d="M316.1 237.4L313.3 234.2L309.8 231.5L305.9 229.3L301.5 227.7L296.6 226.8" fill="none" stroke="#756600" stroke-width="16.74" stroke-linecap="round" stroke-linejoin="round"/><path d="M296.6 226.8L291 227.2L285.1 228.3L279.1 230.2L273 232.8" fill="none" stroke="#726600" stroke-width="16.74" stroke-linecap="round" stroke-linejoin="round"/><path d="M273 232.8L266.5 236.8L260.2 241.5L254 246.9" fill="none" stroke="#6e6600" stroke-width="16.25" stroke-linecap="round" stroke-linejoin="round"/><path d="M254 246.9L247.7 253.8L241.9 261.4" fill="none" stroke="#676600" stroke-width="14.77" stroke-linecap="round" stroke-linejoin="round"/><path d="M348.6 282.8L353 273.8L356.6 264.3L359.3 254.4" fill="none" stroke="#636600" stroke-width="14.77" stroke-linecap="round" stroke-linejoin="round"/><path d="M359.3 254.4L361 244.5L361.6 234.5L361 224.7" fill="none" stroke="#676600" stroke-width="16.25" stroke-linecap="round" stroke-linejoin="round"/><path d="M361 224.7L359.2 215.3L356.2 206.5L351.9 198.3" fill="none" stroke="#676600" stroke-width="16.25" stroke-linecap="round" stroke-linejoin="round"/><path d="M351.9 198.3L346.7 192.1L340.6 186.8" fill="none" stroke="#606600" stroke-width="14.28" stroke-linecap="round" stroke-linejoin="round"/><path d="M230.2 266.7L223.7 276.4L218 286.9L213.4 298" fill="none" stroke="#606600" stroke-width="14.77" stroke-linecap="round" stroke-linejoin="round"/><path d="M213.4 298L210.3 308L208.3 318.2L207.3 328.4L207.5 338.4" fill="none" stroke="#646600" stroke-width="16.25" stroke-linecap="round" stroke-linejoin="round"/><path d="M207.5 338.4L207.9 347.5L209.3 356.4L211.8 364.9" fill="none" stroke="#646600" stroke-width="16.25" stroke-linecap="round" stroke-linejoin="round"/><path d="M211.8 364.9L215.9 372.2L220.9 378.8" fill="none" stroke="#606600" stroke-width="14.28" stroke-linecap="round" stroke-linejoin="round"/></g><circle r="1" fill="url(#a2c)" transform="translate(285.55 284.25) rotate(-54) scale(42 28.56)"/></g></g></g>
</g>
<path d="M949.95 102.7v13.0M949.95 673.2v-13.0M837.6 214.75h13.0M1408.7 214.75h-13.0M1123.15 102.7v13.0M1123.15 673.2v-13.0M837.6 387.95h13.0M1408.7 387.95h-13.0M1296.35 102.7v13.0M1296.35 673.2v-13.0M837.6 561.15h13.0M1408.7 561.15h-13.0" stroke="#fff" stroke-width="3.3"/>
<rect x="837.6" y="102.7" width="571.1" height="570.5" fill="none" stroke="#000" stroke-width="3.3"/>
<text x="949.95" y="80.2" text-anchor="middle">1</text>
<text x="1123.15" y="80.2" text-anchor="middle">0</text>
<text x="1296.35" y="80.2" text-anchor="middle">−1</text>
<text x="822.8" y="227.85" text-anchor="end">1</text>
<text x="822.8" y="401.05" text-anchor="end">0</text>
<text x="822.8" y="574.25" text-anchor="end">−1</text>
<text x="965.4" y="159.8" text-anchor="middle" fill="#fff">IM Lup</text>
<rect x="1277.1" y="584.4" width="17" height="6.5" fill="#fff"/>
<text x="1281.1" y="645.4" fill="#fff">10 au</text>
<ellipse cx="894.8" cy="616.2" rx="5.6" ry="5.8" fill="#fff" transform="rotate(0 894.8 616.2)"/>
<rect x="837.6" y="685.6" width="571.1" height="28.7" fill="url(#inf)" stroke="#000" stroke-width="3.3"/>
<text x="837.6" y="755.4" text-anchor="middle">0.0</text>
<text x="1124" y="755.4" text-anchor="middle">0.5</text>
<text x="1197.7" y="755.4" text-anchor="middle">1.0</text>
<text x="1272.4" y="755.4" text-anchor="middle">2.0</text>
<text x="1347" y="755.4" text-anchor="middle">4.0</text>
<path d="M1124 714.3v-14.7M1197.7 714.3v-14.7M1272.4 714.3v-14.7M1347 714.3v-14.7" stroke="#000" stroke-width="3.3"/>
<text x="1121.25" y="793.6" text-anchor="middle"><tspan font-style="italic">I</tspan><tspan font-style="italic" font-size="24.22" dy="5.6">ν</tspan><tspan dy="-5.6"> (mJy beam</tspan><tspan font-size="24.22" dy="-12.5">−1</tspan><tspan dy="12.5">)</tspan></text>
<g transform="translate(849.9 809.4)">
<g clip-path="url(#cp)"><g filter="url(#px)"><g filter="url(#cm)"><g filter="url(#npa2)"><rect x="-30" y="-30" width="606.7" height="374.7" fill="#ff0000"/><rect x="0" y="-30" width="546.7" height="374.7" fill="url(#pa2)"/><rect x="545.7" y="-30" width="31" height="374.7" fill="#129900"/><ellipse cx="185.88" cy="109.27" rx="16" ry="30" fill="#248000" opacity="0.7"/><ellipse cx="185.88" cy="266.62" rx="16" ry="30" fill="#248000" opacity="0.7"/><g opacity="0.55" style="mix-blend-mode:lighten"><path d="M35 301.6L54.7 321.7" fill="none" stroke="#7e8000" stroke-width="35.51" stroke-linecap="round" stroke-linejoin="round"/><path d="M35 -13.1L54.7 7" fill="none" stroke="#7e8000" stroke-width="35.51" stroke-linecap="round" stroke-linejoin="round"/><path d="M54.7 7L72.2 35" fill="none" stroke="#818000" stroke-width="40.41" stroke-linecap="round" stroke-linejoin="round"/><path d="M72.2 35L91.8 61.2" fill="none" stroke="#808000" stroke-width="41.64" stroke-linecap="round" stroke-linejoin="round"/><path d="M91.8 61.2L113.7 89.2" fill="none" stroke="#7b8000" stroke-width="41.64" stroke-linecap="round" stroke-linejoin="round"/><path d="M113.7 89.2L131.2 109.3" fill="none" stroke="#768000" stroke-width="41.64" stroke-linecap="round" stroke-linejoin="round"/><path d="M131.2 109.3L142.1 126.8" fill="none" stroke="#718000" stroke-width="40.41" stroke-linecap="round" stroke-linejoin="round"/><path d="M142.1 126.8L144.3 139.9" fill="none" stroke="#688000" stroke-width="36.74" stroke-linecap="round" stroke-linejoin="round"/><path d="M43.7 148.6L63.4 174.8" fill="none" stroke="#778000" stroke-width="30.62" stroke-linecap="round" stroke-linejoin="round"/><path d="M63.4 174.8L87.5 204.6" fill="none" stroke="#7f8000" stroke-width="39.19" stroke-linecap="round" stroke-linejoin="round"/><path d="M87.5 204.6L113.7 240.4" fill="none" stroke="#808000" stroke-width="41.64" stroke-linecap="round" stroke-linejoin="round"/><path d="M113.7 240.4L131.2 266.6" fill="none" stroke="#7b8000" stroke-width="41.64" stroke-linecap="round" stroke-linejoin="round"/><path d="M131.2 266.6L140 288.5" fill="none" stroke="#778000" stroke-width="41.64" stroke-linecap="round" stroke-linejoin="round"/><path d="M140 288.5L144.3 306" fill="none" stroke="#718000" stroke-width="40.41" stroke-linecap="round" stroke-linejoin="round"/><path d="M144.3 306L146.5 319.1" fill="none" stroke="#678000" stroke-width="36.74" stroke-linecap="round" stroke-linejoin="round"/><path d="M144.3 -8.7L146.5 4.4" fill="none" stroke="#678000" stroke-width="36.74" stroke-linecap="round" stroke-linejoin="round"/><path d="M166.2 181.8L183.7 199.3" fill="none" stroke="#618000" stroke-width="36.74" stroke-linecap="round" stroke-linejoin="round"/><path d="M183.7 199.3L201.2 216.8" fill="none" stroke="#678000" stroke-width="40.41" stroke-linecap="round" stroke-linejoin="round"/><path d="M201.2 216.8L218.7 234.3" fill="none" stroke="#658000" stroke-width="40.41" stroke-linecap="round" stroke-linejoin="round"/><path d="M218.7 234.3L227.4 244.8" fill="none" stroke="#5c8000" stroke-width="35.51" stroke-linecap="round" stroke-linejoin="round"/><path d="M168.4 10.5L183.7 30.6" fill="none" stroke="#5b8000" stroke-width="36.74" stroke-linecap="round" stroke-linejoin="round"/><path d="M183.7 30.6L201.2 54.2" fill="none" stroke="#628000" stroke-width="40.41" stroke-linecap="round" stroke-linejoin="round"/><path d="M201.2 54.2L218.7 69.9" fill="none" stroke="#628000" stroke-width="40.41" stroke-linecap="round" stroke-linejoin="round"/><path d="M218.7 69.9L227.4 80.4" fill="none" stroke="#5b8000" stroke-width="35.51" stroke-linecap="round" stroke-linejoin="round"/></g></g></g></g></g>
</g>
<rect x="849.9" y="809.4" width="546.7" height="314.7" fill="none" stroke="#000" stroke-width="3.3"/>
<text x="849.9" y="1180.7" text-anchor="middle">0</text>
<text x="959.24" y="1180.7" text-anchor="middle">50</text>
<text x="1068.58" y="1180.7" text-anchor="middle">100</text>
<text x="1177.92" y="1180.7" text-anchor="middle">150</text>
<text x="1287.26" y="1180.7" text-anchor="middle">200</text>
<text x="1396.6" y="1180.7" text-anchor="middle">250</text>
<path d="M849.9 809.4h-15.4M849.9 888.07h-15.4M849.9 966.75h-15.4M849.9 1045.42h-15.4M849.9 1124.1h-15.4M849.9 1124.1v15.2M959.24 1124.1v15.2M1068.58 1124.1v15.2M1177.92 1124.1v15.2M1287.26 1124.1v15.2M1396.6 1124.1v15.2" stroke="#000" stroke-width="3.3"/>
<path d="M849.9 848.74h-9.1M849.9 927.41h-9.1M849.9 1006.09h-9.1M849.9 1084.76h-9.1M904.57 1124.1v8.8M1013.91 1124.1v8.8M1123.25 1124.1v8.8M1232.59 1124.1v8.8M1341.93 1124.1v8.8" stroke="#000" stroke-width="2.6"/>
<g transform="translate(1528.1 102.7)">
<g clip-path="url(#ci)"><g filter="url(#cm)"><g filter="url(#na3)"><rect x="-30" y="-30" width="631.1" height="630.5" fill="#058000"/><circle r="1" fill="url(#a3o)" transform="translate(288.55 283.25) rotate(6) scale(172 256)"/><circle r="1" fill="url(#a3i)" transform="translate(288.55 283.25) rotate(6) scale(84 120)"/></g></g></g>
</g>
<path d="M1655.15 102.7v13.0M1655.15 673.2v-13.0M1528.1 229.45h13.0M2099.2 229.45h-13.0M1813.65 102.7v13.0M1813.65 673.2v-13.0M1528.1 387.95h13.0M2099.2 387.95h-13.0M1972.15 102.7v13.0M1972.15 673.2v-13.0M1528.1 546.45h13.0M2099.2 546.45h-13.0" stroke="#fff" stroke-width="3.3"/>
<rect x="1528.1" y="102.7" width="571.1" height="570.5" fill="none" stroke="#000" stroke-width="3.3"/>
<text x="1655.15" y="80.2" text-anchor="middle">0.5</text>
<text x="1813.65" y="80.2" text-anchor="middle">0.0</text>
<text x="1972.15" y="80.2" text-anchor="middle">−0.5</text>
<text x="1513.3" y="242.55" text-anchor="end">0.5</text>
<text x="1513.3" y="401.05" text-anchor="end">0.0</text>
<text x="1513.3" y="559.55" text-anchor="end">−0.5</text>
<text x="1655.9" y="159.8" text-anchor="middle" fill="#fff">WaOph 6</text>
<rect x="1967.6" y="584.4" width="32" height="6.5" fill="#fff"/>
<text x="1971.6" y="645.4" fill="#fff">10 au</text>
<ellipse cx="1585.3" cy="616.2" rx="11.5" ry="10.8" fill="#fff" transform="rotate(0 1585.3 616.2)"/>
<rect x="1528.1" y="685.6" width="571.1" height="28.7" fill="url(#inf)" stroke="#000" stroke-width="3.3"/>
<text x="1528.1" y="755.4" text-anchor="middle">0</text>
<text x="1832.3" y="755.4" text-anchor="middle">1</text>
<text x="1918.5" y="755.4" text-anchor="middle">2</text>
<text x="2002.8" y="755.4" text-anchor="middle">4</text>
<text x="2053.1" y="755.4" text-anchor="middle">6</text>
<text x="2089.9" y="755.4" text-anchor="middle">8</text>
<path d="M1832.3 714.3v-14.7M1918.5 714.3v-14.7M2002.8 714.3v-14.7M2053.1 714.3v-14.7M2089.9 714.3v-14.7" stroke="#000" stroke-width="3.3"/>
<text x="1811.75" y="793.6" text-anchor="middle"><tspan font-style="italic">I</tspan><tspan font-style="italic" font-size="24.22" dy="5.6">ν</tspan><tspan dy="-5.6"> (mJy beam</tspan><tspan font-size="24.22" dy="-12.5">−1</tspan><tspan dy="12.5">)</tspan></text>
<g transform="translate(1540.4 809.4)">
<g clip-path="url(#cp)"><g filter="url(#px)"><g filter="url(#cm)"><g filter="url(#npa3)"><rect x="-30" y="-30" width="606.7" height="374.7" fill="#ff0000"/><rect x="0" y="-30" width="546.7" height="374.7" fill="url(#pa3)"/><rect x="545.7" y="-30" width="31" height="374.7" fill="#089900"/><ellipse cx="205.01" cy="100.53" rx="20" ry="32" fill="#4c4c00" opacity="0.6"/><ellipse cx="209.57" cy="257.88" rx="20" ry="32" fill="#4c4c00" opacity="0.6"/><ellipse cx="355.36" cy="96.16" rx="30" ry="50" fill="#306600" opacity="0.6"/><ellipse cx="364.47" cy="253.51" rx="30" ry="50" fill="#306600" opacity="0.6"/><g opacity="0.3" style="mix-blend-mode:lighten"><path d="M123 91.8L136.7 71.7" fill="none" stroke="#7e8000" stroke-width="39.65" stroke-linecap="round" stroke-linejoin="round"/><path d="M136.7 71.7L164 44.6" fill="none" stroke="#818000" stroke-width="39.65" stroke-linecap="round" stroke-linejoin="round"/><path d="M164 44.6L191.3 23.6" fill="none" stroke="#7e8000" stroke-width="39.65" stroke-linecap="round" stroke-linejoin="round"/><path d="M191.3 338.3L209.6 315.6" fill="none" stroke="#7c8000" stroke-width="39.65" stroke-linecap="round" stroke-linejoin="round"/><path d="M191.3 23.6L209.6 0.9" fill="none" stroke="#7c8000" stroke-width="39.65" stroke-linecap="round" stroke-linejoin="round"/><path d="M209.6 315.6L227.8 292.8" fill="none" stroke="#798000" stroke-width="39.65" stroke-linecap="round" stroke-linejoin="round"/><path d="M209.6 0.9L227.8 -21.9" fill="none" stroke="#798000" stroke-width="39.65" stroke-linecap="round" stroke-linejoin="round"/><path d="M227.8 292.8L259.7 272.7" fill="none" stroke="#7c8000" stroke-width="42.13" stroke-linecap="round" stroke-linejoin="round"/><path d="M259.7 272.7L287 255.3" fill="none" stroke="#7d8000" stroke-width="44.61" stroke-linecap="round" stroke-linejoin="round"/><path d="M287 255.3L309.8 240.4" fill="none" stroke="#788000" stroke-width="42.13" stroke-linecap="round" stroke-linejoin="round"/><path d="M309.8 240.4L318.9 222.9" fill="none" stroke="#748000" stroke-width="39.65" stroke-linecap="round" stroke-linejoin="round"/><path d="M318.9 222.9L323.5 205.4" fill="none" stroke="#718000" stroke-width="39.65" stroke-linecap="round" stroke-linejoin="round"/><path d="M323.5 205.4L323.5 187.9" fill="none" stroke="#698000" stroke-width="39.65" stroke-linecap="round" stroke-linejoin="round"/><path d="M109.3 244.8L136.7 220.3" fill="none" stroke="#858000" stroke-width="59.48" stroke-linecap="round" stroke-linejoin="round"/><path d="M136.7 220.3L164 201.1" fill="none" stroke="#8c8000" stroke-width="66.92" stroke-linecap="round" stroke-linejoin="round"/><path d="M164 201.1L191.3 180.1" fill="none" stroke="#8c8000" stroke-width="66.92" stroke-linecap="round" stroke-linejoin="round"/><path d="M191.3 180.1L209.6 162.6" fill="none" stroke="#828000" stroke-width="57" stroke-linecap="round" stroke-linejoin="round"/><path d="M255.1 115.4L268.8 103.2" fill="none" stroke="#718000" stroke-width="47.09" stroke-linecap="round" stroke-linejoin="round"/><path d="M268.8 103.2L282.5 90.9" fill="none" stroke="#7a8000" stroke-width="49.57" stroke-linecap="round" stroke-linejoin="round"/><path d="M282.5 90.9L296.1 78.7" fill="none" stroke="#7a8000" stroke-width="49.57" stroke-linecap="round" stroke-linejoin="round"/><path d="M296.1 78.7L309.8 67.3" fill="none" stroke="#718000" stroke-width="47.09" stroke-linecap="round" stroke-linejoin="round"/></g><ellipse cx="13.67" cy="222.91" rx="20" ry="110" fill="#ff0d00" opacity="0.8"/></g></g></g></g>
</g>
<rect x="1540.4" y="809.4" width="546.7" height="314.7" fill="none" stroke="#000" stroke-width="3.3"/>
<text x="1540.4" y="1180.7" text-anchor="middle">0</text>
<text x="1654.3" y="1180.7" text-anchor="middle">25</text>
<text x="1768.19" y="1180.7" text-anchor="middle">50</text>
<text x="1882.09" y="1180.7" text-anchor="middle">75</text>
<text x="1995.98" y="1180.7" text-anchor="middle">100</text>
<path d="M1540.4 809.4h-15.4M1540.4 888.07h-15.4M1540.4 966.75h-15.4M1540.4 1045.42h-15.4M1540.4 1124.1h-15.4M1540.4 1124.1v15.2M1654.3 1124.1v15.2M1768.19 1124.1v15.2M1882.09 1124.1v15.2M1995.98 1124.1v15.2" stroke="#000" stroke-width="3.3"/>
<path d="M1540.4 848.74h-9.1M1540.4 927.41h-9.1M1540.4 1006.09h-9.1M1540.4 1084.76h-9.1" stroke="#000" stroke-width="2.6"/>
<g transform="translate(147.1 1431)">
<g clip-path="url(#ci)"><g filter="url(#cm)"><g filter="url(#nb1)"><rect x="-30" y="-30" width="631.1" height="630.5" fill="#00ff00"/><ellipse cx="285.55" cy="285.25" rx="155.52" ry="86.47" transform="rotate(151.2 285.55 285.25)" fill="#000000"/><ellipse cx="423.55" cy="200.25" rx="80" ry="42" fill="#000000" transform="rotate(-28 423.55 200.25)"/><ellipse cx="147.55" cy="370.25" rx="80" ry="42" fill="#000000" transform="rotate(-28 147.55 370.25)"/><path d="M312.1 259L310.2 256.8L307.6 255L304.3 253.5L300.4 252.4L295.9 251.8" fill="none" stroke="#59b200" stroke-width="14.9" stroke-linecap="round" stroke-linejoin="round"/><path d="M295.9 251.8L291.3 252L286.4 252.6L281.2 253.7L275.7 255.2L270.1 257.2" fill="none" stroke="#57b200" stroke-width="14.9" stroke-linecap="round" stroke-linejoin="round"/><path d="M270.1 257.2L263.5 259.6L256.7 262.6L249.8 266.3" fill="none" stroke="#4db200" stroke-width="14.9" stroke-linecap="round" stroke-linejoin="round"/><path d="M249.8 266.3L242.5 270.7L235.3 275.8L228.5 281.5L222.2 287.7L216.5 294.4" fill="none" stroke="#4db200" stroke-width="15.73" stroke-linecap="round" stroke-linejoin="round"/><path d="M216.5 294.4L212.5 300.3L209.2 306.5L206.6 312.7L205 318.8L204.2 324.9" fill="none" stroke="#61b200" stroke-width="17.39" stroke-linecap="round" stroke-linejoin="round"/><path d="M204.2 324.9L203.2 332.6L203.7 340.1L205.9 347.2L209.7 353.7" fill="none" stroke="#63b200" stroke-width="19.04" stroke-linecap="round" stroke-linejoin="round"/><path d="M209.7 353.7L214 361.5L220.7 368.4L229.8 374" fill="none" stroke="#52b200" stroke-width="21.53" stroke-linecap="round" stroke-linejoin="round"/><path d="M229.8 374L239.3 378L250.6 380.7L263.6 382.1L278.1 382.1" fill="none" stroke="#4cb200" stroke-width="26.5" stroke-linecap="round" stroke-linejoin="round"/><path d="M278.1 382.1L297.6 382.5L319.8 380.2" fill="none" stroke="#4cb200" stroke-width="33.12" stroke-linecap="round" stroke-linejoin="round"/><path d="M319.8 380.2L338.7 373.6L358 365.4L377.5 355.6L396.7 344.3" fill="none" stroke="#4ab200" stroke-width="34.78" stroke-linecap="round" stroke-linejoin="round"/><path d="M396.7 344.3L418.3 329.1L438.7 312.3L457.5 293.9" fill="none" stroke="#44b200" stroke-width="30.64" stroke-linecap="round" stroke-linejoin="round"/><path d="M457.5 293.9L473.7 273.6L487.1 252.7L497.2 231.4" fill="none" stroke="#40b200" stroke-width="27.32" stroke-linecap="round" stroke-linejoin="round"/><path d="M497.2 231.4L502.5 214.3L505.2 197.5L505.3 181.3L502.6 165.9" fill="none" stroke="#40b200" stroke-width="26.5" stroke-linecap="round" stroke-linejoin="round"/><path d="M502.6 165.9L499.3 150.9L493.3 136.9L484.4 124" fill="none" stroke="#3eb200" stroke-width="26.5" stroke-linecap="round" stroke-linejoin="round"/><path d="M484.4 124L467.9 107.3L445.6 94" fill="none" stroke="#38b200" stroke-width="25.67" stroke-linecap="round" stroke-linejoin="round"/><path d="M445.6 94L422.5 83.7L394.9 76.8" fill="none" stroke="#2db200" stroke-width="24.01" stroke-linecap="round" stroke-linejoin="round"/><path d="M302.5 316.1L309.4 313L316.2 309.3L322.9 305.1L329.3 300.4L335.3 295.3L340.9 289.8" fill="none" stroke="#30b200" stroke-width="15.73" stroke-linecap="round" stroke-linejoin="round"/><path d="M340.9 289.8L346.3 284.1L351 278L355 271.8L358.1 265.4L360.3 259L361.5 252.7" fill="none" stroke="#63b200" stroke-width="17.39" stroke-linecap="round" stroke-linejoin="round"/><path d="M361.5 252.7L363.4 245.4L363.9 238.1L362.9 231.1L360.4 224.6L356.2 218.6" fill="none" stroke="#70b200" stroke-width="19.04" stroke-linecap="round" stroke-linejoin="round"/><path d="M356.2 218.6L350.1 213.6L342.5 209.5L333.4 206.5L322.7 204.7L310.8 204.1" fill="none" stroke="#5cb200" stroke-width="20.7" stroke-linecap="round" stroke-linejoin="round"/><path d="M310.8 204.1L299.3 203.5L286.6 204.1L272.8 206L258.1 209.3" fill="none" stroke="#52b200" stroke-width="22.36" stroke-linecap="round" stroke-linejoin="round"/><path d="M258.1 209.3L241.7 211.1L223.8 214.9" fill="none" stroke="#45b200" stroke-width="24.01" stroke-linecap="round" stroke-linejoin="round"/><path d="M223.8 214.9L206.4 221.9L188.6 230.6L170.8 240.7" fill="none" stroke="#38b200" stroke-width="25.67" stroke-linecap="round" stroke-linejoin="round"/><path d="M170.8 240.7L154.6 253.3L139.5 267L125.5 281.5L113.1 296.7" fill="none" stroke="#2fb200" stroke-width="27.32" stroke-linecap="round" stroke-linejoin="round"/><path d="M113.1 296.7L102 312.4L92.9 328.5L85.9 344.8L81.1 361" fill="none" stroke="#2ab200" stroke-width="28.15" stroke-linecap="round" stroke-linejoin="round"/><path d="M81.1 361L76.8 378.8L75.6 396.3L77.6 413.1" fill="none" stroke="#29b200" stroke-width="28.15" stroke-linecap="round" stroke-linejoin="round"/><path d="M77.6 413.1L81.7 432.4L90.6 450.2" fill="none" stroke="#29b200" stroke-width="27.32" stroke-linecap="round" stroke-linejoin="round"/><path d="M90.6 450.2L98.9 473.6" fill="none" stroke="#28b200" stroke-width="25.67" stroke-linecap="round" stroke-linejoin="round"/><path d="M98.9 473.6L99.4 491.7" fill="none" stroke="#22b200" stroke-width="24.01" stroke-linecap="round" stroke-linejoin="round"/><ellipse cx="289.55" cy="275.25" rx="9" ry="7" fill="#bf0000"/></g></g></g>
</g>
<g transform="translate(147.1 1431)">
<ellipse cx="285.55" cy="285.25" rx="123.26" ry="68.53" transform="rotate(151.2 285.55 285.25)" fill="none" stroke="#fff" stroke-width="3.3"/><ellipse cx="285.55" cy="285.25" rx="99.22" ry="55.16" transform="rotate(151.2 285.55 285.25)" fill="none" stroke="#fff" stroke-width="3.3" stroke-dasharray="3.3 5.4"/><path d="M285.6 265.4L290 279.1L304.5 279.1L292.8 287.6L297.2 301.3L285.6 292.9L273.9 301.3L278.3 287.6L266.6 279.1L281.1 279.1Z" fill="#fff" stroke="#fff" stroke-width="3.3" stroke-linejoin="round"/>
</g>
<path d="M269.45 1431v13.0M269.45 2001.5v-13.0M147.1 1553.05h13.0M718.2 1553.05h-13.0M432.65 1431v13.0M432.65 2001.5v-13.0M147.1 1716.25h13.0M718.2 1716.25h-13.0M595.85 1431v13.0M595.85 2001.5v-13.0M147.1 1879.45h13.0M718.2 1879.45h-13.0" stroke="#fff" stroke-width="3.3"/>
<rect x="147.1" y="1431" width="571.1" height="570.5" fill="none" stroke="#000" stroke-width="3.3"/>
<text x="269.45" y="1408.5" text-anchor="middle">1</text>
<text x="432.65" y="1408.5" text-anchor="middle">0</text>
<text x="595.85" y="1408.5" text-anchor="middle">−1</text>
<text x="132.3" y="1566.15" text-anchor="end">1</text>
<text x="132.3" y="1729.35" text-anchor="end">0</text>
<text x="132.3" y="1892.55" text-anchor="end">−1</text>
<text x="274.9" y="1488.1" text-anchor="middle" fill="#fff">Elias 27</text>
<rect x="586.6" y="1912.7" width="20.7" height="6.5" fill="#fff"/>
<text x="590.6" y="1973.7" fill="#fff">10 au</text>
<ellipse cx="204.3" cy="1944.5" rx="6.05" ry="6.25" fill="#fff" transform="rotate(0 204.3 1944.5)"/>
<text x="432.65" y="1354.2" text-anchor="middle">Δ<tspan font-style="italic">α</tspan> ['']</text>
<text transform="translate(49.5 1717.55) rotate(-90)" text-anchor="middle">Δ<tspan font-style="italic">δ</tspan> ['']</text>
<rect x="147.1" y="2013.9" width="571.1" height="28.7" fill="url(#inf)" stroke="#000" stroke-width="3.3"/>
<text x="147.1" y="2083.7" text-anchor="middle">0.0</text>
<text x="444.2" y="2083.7" text-anchor="middle">0.1</text>
<text x="559.9" y="2083.7" text-anchor="middle">0.2</text>
<text x="679.3" y="2083.7" text-anchor="middle">0.4</text>
<path d="M444.2 2042.6v-14.7M559.9 2042.6v-14.7M679.3 2042.6v-14.7" stroke="#000" stroke-width="3.3"/>
<text x="432.05" y="2121.9" text-anchor="middle">Δ<tspan font-style="italic">I</tspan><tspan font-style="italic" font-size="24.22" dy="5.6">ν</tspan><tspan dy="-5.6"> (mJy beam</tspan><tspan font-size="24.22" dy="-12.5">−1</tspan><tspan dy="12.5">)</tspan></text>
<g transform="translate(159.4 2137.7)">
<g clip-path="url(#cp)"><g filter="url(#px)"><g filter="url(#cm)"><g filter="url(#npb1)"><rect x="-30" y="-30" width="606.7" height="374.7" fill="url(#pb1m)"/><path d="M61.2 259.6L76.5 288.5" fill="none" stroke="#4c9900" stroke-width="17.32" stroke-linecap="round" stroke-linejoin="round"/><path d="M76.5 288.5L87.5 314.7" fill="none" stroke="#4a9900" stroke-width="17.32" stroke-linecap="round" stroke-linejoin="round"/><path d="M76.5 -26.2L87.5 0" fill="none" stroke="#4a9900" stroke-width="17.32" stroke-linecap="round" stroke-linejoin="round"/><path d="M87.5 314.7L98.4 332.2" fill="none" stroke="#419900" stroke-width="17.32" stroke-linecap="round" stroke-linejoin="round"/><path d="M87.5 0L98.4 17.5" fill="none" stroke="#419900" stroke-width="17.32" stroke-linecap="round" stroke-linejoin="round"/><path d="M98.4 17.5L120.3 48.1" fill="none" stroke="#419900" stroke-width="18.28" stroke-linecap="round" stroke-linejoin="round"/><path d="M120.3 48.1L137.8 74.3" fill="none" stroke="#529900" stroke-width="20.21" stroke-linecap="round" stroke-linejoin="round"/><path d="M137.8 74.3L164 98.8" fill="none" stroke="#559900" stroke-width="22.13" stroke-linecap="round" stroke-linejoin="round"/><path d="M164 98.8L196.8 118" fill="none" stroke="#459900" stroke-width="25.02" stroke-linecap="round" stroke-linejoin="round"/><path d="M196.8 118L236.2 139.9" fill="none" stroke="#419900" stroke-width="30.79" stroke-linecap="round" stroke-linejoin="round"/><path d="M236.2 139.9L273.4 153" fill="none" stroke="#419900" stroke-width="38.49" stroke-linecap="round" stroke-linejoin="round"/><path d="M273.4 153L306.2 174.8" fill="none" stroke="#3f9900" stroke-width="40.41" stroke-linecap="round" stroke-linejoin="round"/><path d="M306.2 174.8L332.4 194.1" fill="none" stroke="#399900" stroke-width="35.6" stroke-linecap="round" stroke-linejoin="round"/><path d="M332.4 194.1L354.3 214.2" fill="none" stroke="#369900" stroke-width="31.75" stroke-linecap="round" stroke-linejoin="round"/><path d="M354.3 214.2L376.1 236" fill="none" stroke="#369900" stroke-width="30.79" stroke-linecap="round" stroke-linejoin="round"/><path d="M376.1 236L402.4 251.8" fill="none" stroke="#359900" stroke-width="30.79" stroke-linecap="round" stroke-linejoin="round"/><path d="M402.4 251.8L430.8 266.6" fill="none" stroke="#309900" stroke-width="29.83" stroke-linecap="round" stroke-linejoin="round"/><path d="M430.8 266.6L463.6 279.7" fill="none" stroke="#269900" stroke-width="27.9" stroke-linecap="round" stroke-linejoin="round"/><path d="M96.2 157.3L109.3 192.3" fill="none" stroke="#299900" stroke-width="18.28" stroke-linecap="round" stroke-linejoin="round"/><path d="M109.3 192.3L126.8 227.3" fill="none" stroke="#559900" stroke-width="20.21" stroke-linecap="round" stroke-linejoin="round"/><path d="M126.8 227.3L157.4 257.9" fill="none" stroke="#5f9900" stroke-width="22.13" stroke-linecap="round" stroke-linejoin="round"/><path d="M157.4 257.9L185.9 288.5" fill="none" stroke="#4e9900" stroke-width="24.05" stroke-linecap="round" stroke-linejoin="round"/><path d="M185.9 288.5L218.7 310.3" fill="none" stroke="#459900" stroke-width="25.98" stroke-linecap="round" stroke-linejoin="round"/><path d="M185.9 -26.2L218.7 -4.4" fill="none" stroke="#459900" stroke-width="25.98" stroke-linecap="round" stroke-linejoin="round"/><path d="M218.7 310.3L251.5 320.8" fill="none" stroke="#3b9900" stroke-width="27.9" stroke-linecap="round" stroke-linejoin="round"/><path d="M218.7 -4.4L251.5 6.1" fill="none" stroke="#3b9900" stroke-width="27.9" stroke-linecap="round" stroke-linejoin="round"/><path d="M251.5 6.1L284.3 21.9" fill="none" stroke="#309900" stroke-width="29.83" stroke-linecap="round" stroke-linejoin="round"/><path d="M284.3 21.9L310.5 43.7" fill="none" stroke="#289900" stroke-width="31.75" stroke-linecap="round" stroke-linejoin="round"/><path d="M310.5 43.7L339 65.6" fill="none" stroke="#249900" stroke-width="32.71" stroke-linecap="round" stroke-linejoin="round"/><path d="M339 65.6L371.8 83" fill="none" stroke="#239900" stroke-width="32.71" stroke-linecap="round" stroke-linejoin="round"/><path d="M371.8 83L404.6 96.2" fill="none" stroke="#239900" stroke-width="31.75" stroke-linecap="round" stroke-linejoin="round"/><path d="M404.6 96.2L437.4 103.2" fill="none" stroke="#229900" stroke-width="29.83" stroke-linecap="round" stroke-linejoin="round"/><path d="M437.4 103.2L470.2 106.6" fill="none" stroke="#1d9900" stroke-width="27.9" stroke-linecap="round" stroke-linejoin="round"/><ellipse cx="4.37" cy="17.48" rx="19.68" ry="29.72" fill="#ff0000"/><ellipse cx="6.56" cy="45.46" rx="19.68" ry="17.48" fill="#b20000"/><ellipse cx="4.37" cy="301.59" rx="19.68" ry="26.22" fill="#ff0000"/><ellipse cx="43.74" cy="290.22" rx="28.43" ry="27.97" fill="#800000"/><ellipse cx="8.75" cy="157.35" rx="8.75" ry="19.23" fill="#990000"/><ellipse cx="78.72" cy="19.23" rx="26.24" ry="19.23" fill="#470000" opacity="0.8"/></g></g></g></g>
</g>
<rect x="159.4" y="2137.7" width="546.7" height="314.7" fill="none" stroke="#000" stroke-width="3.3"/>
<g transform="translate(159.4 2137.7)">
<path d="M187.19 0V314.7" stroke="#fff" stroke-width="3.3"/><path d="M150.67 0V314.7" stroke="#fff" stroke-width="3.3" stroke-dasharray="3.3 5.4"/>
</g>
<text x="128.2" y="2150.8" text-anchor="end">180</text>
<text x="128.2" y="2229.47" text-anchor="end">90</text>
<text x="128.2" y="2308.15" text-anchor="end">0</text>
<text x="128.2" y="2386.82" text-anchor="end">−90</text>
<text x="128.2" y="2465.5" text-anchor="end">−180</text>
<text x="159.4" y="2509" text-anchor="middle">0</text>
<text x="268.74" y="2509" text-anchor="middle">50</text>
<text x="378.08" y="2509" text-anchor="middle">100</text>
<text x="487.42" y="2509" text-anchor="middle">150</text>
<text x="596.76" y="2509" text-anchor="middle">200</text>
<text x="706.1" y="2509" text-anchor="middle">250</text>
<path d="M159.4 2137.7h-15.4M159.4 2216.38h-15.4M159.4 2295.05h-15.4M159.4 2373.72h-15.4M159.4 2452.4h-15.4M159.4 2452.4v15.2M268.74 2452.4v15.2M378.08 2452.4v15.2M487.42 2452.4v15.2M596.76 2452.4v15.2M706.1 2452.4v15.2" stroke="#000" stroke-width="3.3"/>
<path d="M159.4 2177.04h-9.1M159.4 2255.71h-9.1M159.4 2334.39h-9.1M159.4 2413.06h-9.1M214.07 2452.4v8.8M323.41 2452.4v8.8M432.75 2452.4v8.8M542.09 2452.4v8.8M651.43 2452.4v8.8" stroke="#000" stroke-width="2.6"/>
<text x="432.75" y="2559" text-anchor="middle">Radius (au)</text>
<text transform="translate(26.7 2295.05) rotate(-90)" text-anchor="middle">Polar angle (deg)</text>
<g transform="translate(837.6 1431)">
<g clip-path="url(#ci)"><g filter="url(#cm)"><g filter="url(#nb2)"><rect x="-30" y="-30" width="631.1" height="630.5" fill="#00ff00"/><ellipse cx="285.55" cy="285.25" rx="140.03" ry="94.66" transform="rotate(126 285.55 285.25)" fill="#001a00"/><path d="M279 274.9L275.8 274.9L272.3 275.8L268.5 277.6" fill="none" stroke="#a69900" stroke-width="15.86" stroke-linecap="round" stroke-linejoin="round"/><path d="M268.5 277.6L265.9 279.9L263.3 282.7L260.9 285.8L258.7 289.3L256.8 293" fill="none" stroke="#ad9900" stroke-width="18.05" stroke-linecap="round" stroke-linejoin="round"/><path d="M256.8 293L255 296.9L253.5 301L252.4 305.2L251.8 309.6L251.6 313.9" fill="none" stroke="#ab9900" stroke-width="18.6" stroke-linecap="round" stroke-linejoin="round"/><path d="M251.6 313.9L251.9 318.6L252.8 323.1L254.3 327.4L256.5 331.4L259.3 335" fill="none" stroke="#a19900" stroke-width="18.6" stroke-linecap="round" stroke-linejoin="round"/><path d="M259.3 335L263.5 338.8L268.5 341.8L274.5 343.7" fill="none" stroke="#949900" stroke-width="18.6" stroke-linecap="round" stroke-linejoin="round"/><path d="M274.5 343.7L280.5 343.8L286.8 343.1L293.4 341.4" fill="none" stroke="#8a9900" stroke-width="18.05" stroke-linecap="round" stroke-linejoin="round"/><path d="M293.4 341.4L300.9 337.3L308.1 332.2" fill="none" stroke="#759900" stroke-width="16.41" stroke-linecap="round" stroke-linejoin="round"/><path d="M295.1 296.9L297.6 296L300.2 294.8L302.9 293.1L305.6 290.9L308.2 288.3" fill="none" stroke="#989900" stroke-width="13.68" stroke-linecap="round" stroke-linejoin="round"/><path d="M308.2 288.3L311.3 284.9L314.1 281L316.6 276.6L318.8 271.9L320.4 266.8" fill="none" stroke="#a89900" stroke-width="17.5" stroke-linecap="round" stroke-linejoin="round"/><path d="M320.4 266.8L321.4 261.7L321.7 256.5L321.4 251.4L320.4 246.4L318.6 241.7L316.1 237.4" fill="none" stroke="#ab9900" stroke-width="18.6" stroke-linecap="round" stroke-linejoin="round"/><path d="M316.1 237.4L313.3 234.2L309.8 231.5L305.9 229.3L301.5 227.7L296.6 226.8" fill="none" stroke="#a19900" stroke-width="18.6" stroke-linecap="round" stroke-linejoin="round"/><path d="M296.6 226.8L291 227.2L285.1 228.3L279.1 230.2L273 232.8" fill="none" stroke="#969900" stroke-width="18.6" stroke-linecap="round" stroke-linejoin="round"/><path d="M273 232.8L266.5 236.8L260.2 241.5L254 246.9" fill="none" stroke="#8a9900" stroke-width="18.05" stroke-linecap="round" stroke-linejoin="round"/><path d="M254 246.9L247.7 253.8L241.9 261.4" fill="none" stroke="#739900" stroke-width="16.41" stroke-linecap="round" stroke-linejoin="round"/><path d="M348.6 282.8L353 273.8L356.6 264.3L359.3 254.4" fill="none" stroke="#669900" stroke-width="16.41" stroke-linecap="round" stroke-linejoin="round"/><path d="M359.3 254.4L361 244.5L361.6 234.5L361 224.7" fill="none" stroke="#739900" stroke-width="18.05" stroke-linecap="round" stroke-linejoin="round"/><path d="M361 224.7L359.2 215.3L356.2 206.5L351.9 198.3" fill="none" stroke="#709900" stroke-width="18.05" stroke-linecap="round" stroke-linejoin="round"/><path d="M351.9 198.3L346.7 192.1L340.6 186.8" fill="none" stroke="#5c9900" stroke-width="15.86" stroke-linecap="round" stroke-linejoin="round"/><path d="M230.2 266.7L223.7 276.4L218 286.9L213.4 298" fill="none" stroke="#599900" stroke-width="16.41" stroke-linecap="round" stroke-linejoin="round"/><path d="M213.4 298L210.3 308L208.3 318.2L207.3 328.4L207.5 338.4" fill="none" stroke="#699900" stroke-width="18.05" stroke-linecap="round" stroke-linejoin="round"/><path d="M207.5 338.4L207.9 347.5L209.3 356.4L211.8 364.9" fill="none" stroke="#699900" stroke-width="18.05" stroke-linecap="round" stroke-linejoin="round"/><path d="M211.8 364.9L215.9 372.2L220.9 378.8" fill="none" stroke="#599900" stroke-width="15.86" stroke-linecap="round" stroke-linejoin="round"/><ellipse cx="273.55" cy="289.25" rx="9" ry="8" fill="#cc0000"/></g></g></g>
</g>
<g transform="translate(837.6 1431)">
<ellipse cx="285.55" cy="285.25" rx="146.05" ry="98.73" transform="rotate(126 285.55 285.25)" fill="none" stroke="#fff" stroke-width="3.3"/><ellipse cx="285.55" cy="285.25" rx="128.33" ry="86.75" transform="rotate(126 285.55 285.25)" fill="none" stroke="#fff" stroke-width="3.3" stroke-dasharray="3.3 5.4"/><path d="M285.6 265.4L290 279.1L304.5 279.1L292.8 287.6L297.2 301.3L285.6 292.9L273.9 301.3L278.3 287.6L266.6 279.1L281.1 279.1Z" fill="#fff" stroke="#fff" stroke-width="3.3" stroke-linejoin="round"/>
</g>
<path d="M949.95 1431v13.0M949.95 2001.5v-13.0M837.6 1543.05h13.0M1408.7 1543.05h-13.0M1123.15 1431v13.0M1123.15 2001.5v-13.0M837.6 1716.25h13.0M1408.7 1716.25h-13.0M1296.35 1431v13.0M1296.35 2001.5v-13.0M837.6 1889.45h13.0M1408.7 1889.45h-13.0" stroke="#fff" stroke-width="3.3"/>
<rect x="837.6" y="1431" width="571.1" height="570.5" fill="none" stroke="#000" stroke-width="3.3"/>
<text x="949.95" y="1408.5" text-anchor="middle">1</text>
<text x="1123.15" y="1408.5" text-anchor="middle">0</text>
<text x="1296.35" y="1408.5" text-anchor="middle">−1</text>
<text x="822.8" y="1556.15" text-anchor="end">1</text>
<text x="822.8" y="1729.35" text-anchor="end">0</text>
<text x="822.8" y="1902.55" text-anchor="end">−1</text>
<text x="965.4" y="1488.1" text-anchor="middle" fill="#fff">IM Lup</text>
<rect x="1277.1" y="1912.7" width="17" height="6.5" fill="#fff"/>
<text x="1281.1" y="1973.7" fill="#fff">10 au</text>
<ellipse cx="894.8" cy="1944.5" rx="5.6" ry="5.8" fill="#fff" transform="rotate(0 894.8 1944.5)"/>
<rect x="837.6" y="2013.9" width="571.1" height="28.7" fill="url(#inf)" stroke="#000" stroke-width="3.3"/>
<text x="837.6" y="2083.7" text-anchor="middle">0.00</text>
<text x="1081.1" y="2083.7" text-anchor="middle">0.05</text>
<text x="1193.5" y="2083.7" text-anchor="middle">0.10</text>
<text x="1312" y="2083.7" text-anchor="middle">0.20</text>
<path d="M1081.1 2042.6v-14.7M1193.5 2042.6v-14.7M1312 2042.6v-14.7" stroke="#000" stroke-width="3.3"/>
<text x="1122.55" y="2121.9" text-anchor="middle">Δ<tspan font-style="italic">I</tspan><tspan font-style="italic" font-size="24.22" dy="5.6">ν</tspan><tspan dy="-5.6"> (mJy beam</tspan><tspan font-size="24.22" dy="-12.5">−1</tspan><tspan dy="12.5">)</tspan></text>
<g transform="translate(849.9 2137.7)">
<g clip-path="url(#cp)"><g filter="url(#px)"><g filter="url(#cm)"><g filter="url(#npb2)"><rect x="-30" y="-30" width="606.7" height="374.7" fill="url(#pb2m)"/><path d="M35 301.6L54.7 321.7" fill="none" stroke="#a69900" stroke-width="29.17" stroke-linecap="round" stroke-linejoin="round"/><path d="M35 -13.1L54.7 7" fill="none" stroke="#a69900" stroke-width="29.17" stroke-linecap="round" stroke-linejoin="round"/><path d="M54.7 7L72.2 35" fill="none" stroke="#ad9900" stroke-width="33.2" stroke-linecap="round" stroke-linejoin="round"/><path d="M72.2 35L91.8 61.2" fill="none" stroke="#ab9900" stroke-width="34.2" stroke-linecap="round" stroke-linejoin="round"/><path d="M91.8 61.2L113.7 89.2" fill="none" stroke="#a19900" stroke-width="34.2" stroke-linecap="round" stroke-linejoin="round"/><path d="M113.7 89.2L131.2 109.3" fill="none" stroke="#949900" stroke-width="34.2" stroke-linecap="round" stroke-linejoin="round"/><path d="M131.2 109.3L142.1 126.8" fill="none" stroke="#8a9900" stroke-width="33.2" stroke-linecap="round" stroke-linejoin="round"/><path d="M142.1 126.8L144.3 139.9" fill="none" stroke="#759900" stroke-width="30.18" stroke-linecap="round" stroke-linejoin="round"/><path d="M43.7 148.6L63.4 174.8" fill="none" stroke="#989900" stroke-width="25.15" stroke-linecap="round" stroke-linejoin="round"/><path d="M63.4 174.8L87.5 204.6" fill="none" stroke="#a89900" stroke-width="32.19" stroke-linecap="round" stroke-linejoin="round"/><path d="M87.5 204.6L113.7 240.4" fill="none" stroke="#ab9900" stroke-width="34.2" stroke-linecap="round" stroke-linejoin="round"/><path d="M113.7 240.4L131.2 266.6" fill="none" stroke="#a19900" stroke-width="34.2" stroke-linecap="round" stroke-linejoin="round"/><path d="M131.2 266.6L140 288.5" fill="none" stroke="#969900" stroke-width="34.2" stroke-linecap="round" stroke-linejoin="round"/><path d="M140 288.5L144.3 306" fill="none" stroke="#8a9900" stroke-width="33.2" stroke-linecap="round" stroke-linejoin="round"/><path d="M144.3 306L146.5 319.1" fill="none" stroke="#739900" stroke-width="30.18" stroke-linecap="round" stroke-linejoin="round"/><path d="M144.3 -8.7L146.5 4.4" fill="none" stroke="#739900" stroke-width="30.18" stroke-linecap="round" stroke-linejoin="round"/><path d="M166.2 181.8L183.7 199.3" fill="none" stroke="#669900" stroke-width="30.18" stroke-linecap="round" stroke-linejoin="round"/><path d="M183.7 199.3L201.2 216.8" fill="none" stroke="#739900" stroke-width="33.2" stroke-linecap="round" stroke-linejoin="round"/><path d="M201.2 216.8L218.7 234.3" fill="none" stroke="#709900" stroke-width="33.2" stroke-linecap="round" stroke-linejoin="round"/><path d="M218.7 234.3L227.4 244.8" fill="none" stroke="#5c9900" stroke-width="29.17" stroke-linecap="round" stroke-linejoin="round"/><path d="M168.4 10.5L183.7 30.6" fill="none" stroke="#599900" stroke-width="30.18" stroke-linecap="round" stroke-linejoin="round"/><path d="M183.7 30.6L201.2 54.2" fill="none" stroke="#699900" stroke-width="33.2" stroke-linecap="round" stroke-linejoin="round"/><path d="M201.2 54.2L218.7 69.9" fill="none" stroke="#699900" stroke-width="33.2" stroke-linecap="round" stroke-linejoin="round"/><path d="M218.7 69.9L227.4 80.4" fill="none" stroke="#599900" stroke-width="29.17" stroke-linecap="round" stroke-linejoin="round"/><ellipse cx="8.75" cy="19.23" rx="21.87" ry="27.97" fill="#ff0000"/><ellipse cx="30.62" cy="26.22" rx="19.68" ry="26.22" fill="#bf0000"/><ellipse cx="6.56" cy="307.71" rx="21.87" ry="13.99" fill="#ff0000"/><ellipse cx="26.24" cy="304.21" rx="19.68" ry="15.73" fill="#b20000"/><ellipse cx="8.75" cy="74.3" rx="8.75" ry="12.24" fill="#b20000"/><ellipse cx="10.93" cy="144.24" rx="10.93" ry="17.48" fill="#b80000"/></g></g></g></g>
</g>
<rect x="849.9" y="2137.7" width="546.7" height="314.7" fill="none" stroke="#000" stroke-width="3.3"/>
<g transform="translate(849.9 2137.7)">
<path d="M291.94 0V314.7" stroke="#fff" stroke-width="3.3"/><path d="M256.51 0V314.7" stroke="#fff" stroke-width="3.3" stroke-dasharray="3.3 5.4"/>
</g>
<text x="849.9" y="2509" text-anchor="middle">0</text>
<text x="959.24" y="2509" text-anchor="middle">50</text>
<text x="1068.58" y="2509" text-anchor="middle">100</text>
<text x="1177.92" y="2509" text-anchor="middle">150</text>
<text x="1287.26" y="2509" text-anchor="middle">200</text>
<text x="1396.6" y="2509" text-anchor="middle">250</text>
<path d="M849.9 2137.7h-15.4M849.9 2216.38h-15.4M849.9 2295.05h-15.4M849.9 2373.72h-15.4M849.9 2452.4h-15.4M849.9 2452.4v15.2M959.24 2452.4v15.2M1068.58 2452.4v15.2M1177.92 2452.4v15.2M1287.26 2452.4v15.2M1396.6 2452.4v15.2" stroke="#000" stroke-width="3.3"/>
<path d="M849.9 2177.04h-9.1M849.9 2255.71h-9.1M849.9 2334.39h-9.1M849.9 2413.06h-9.1M904.57 2452.4v8.8M1013.91 2452.4v8.8M1123.25 2452.4v8.8M1232.59 2452.4v8.8M1341.93 2452.4v8.8" stroke="#000" stroke-width="2.6"/>
<g transform="translate(1528.1 1431)">
<g clip-path="url(#ci)"><g filter="url(#cm)"><g filter="url(#nb3)"><rect x="-30" y="-30" width="631.1" height="630.5" fill="#00ff00"/><ellipse cx="285.55" cy="285.25" rx="305.24" ry="206.95" transform="rotate(96 285.55 285.25)" fill="#008c00"/><ellipse cx="285.55" cy="285.25" rx="230.85" ry="156.52" transform="rotate(96 285.55 285.25)" fill="#004c00"/><path d="M290.6 353L284.3 356.7L277.5 359.2L270.4 360.3" fill="none" stroke="#636600" stroke-width="20.52" stroke-linecap="round" stroke-linejoin="round"/><path d="M270.4 360.3L264.2 361L257.9 360.7L251.5 359.2L245.1 356.4L238.9 352.5" fill="none" stroke="#696600" stroke-width="20.52" stroke-linecap="round" stroke-linejoin="round"/><path d="M238.9 352.5L232.6 348.1L226.5 342.3L220.9 335.3L215.7 327.1" fill="none" stroke="#636600" stroke-width="20.52" stroke-linecap="round" stroke-linejoin="round"/><path d="M215.7 327.1L211.9 316.3L208.9 304.6L206.8 292.1L205.8 278.9" fill="none" stroke="#5e6600" stroke-width="20.52" stroke-linecap="round" stroke-linejoin="round"/><path d="M205.8 278.9L205.8 265.3L207 251.3L209.4 237.1L212.8 223.1" fill="none" stroke="#596600" stroke-width="20.52" stroke-linecap="round" stroke-linejoin="round"/><path d="M212.8 223.1L216.9 205.2L223 187.4L230.9 170.3" fill="none" stroke="#5e6600" stroke-width="21.8" stroke-linecap="round" stroke-linejoin="round"/><path d="M230.9 170.3L239.4 156.3L249.3 143.4L260.4 132" fill="none" stroke="#616600" stroke-width="23.09" stroke-linecap="round" stroke-linejoin="round"/><path d="M260.4 132L276.2 120L293.5 111.4" fill="none" stroke="#576600" stroke-width="21.8" stroke-linecap="round" stroke-linejoin="round"/><path d="M293.5 111.4L307.4 110.5L321.3 112.1L335 116.1" fill="none" stroke="#4f6600" stroke-width="20.52" stroke-linecap="round" stroke-linejoin="round"/><path d="M335 116.1L348 123.2L360.2 132.7L371.6 144.3" fill="none" stroke="#496600" stroke-width="20.52" stroke-linecap="round" stroke-linejoin="round"/><path d="M371.6 144.3L381.4 158.5L389.9 174.5L397.1 191.9" fill="none" stroke="#396600" stroke-width="20.52" stroke-linecap="round" stroke-linejoin="round"/><path d="M284.7 224.2L290.1 220L296 216.9L302.5 214.9L309.2 214.2" fill="none" stroke="#706600" stroke-width="30.78" stroke-linecap="round" stroke-linejoin="round"/><path d="M309.2 214.2L317 214L325 215.6L333 219.1" fill="none" stroke="#806600" stroke-width="34.63" stroke-linecap="round" stroke-linejoin="round"/><path d="M333 219.1L339.2 223.7L345.1 229.6L350.7 236.7L355.8 245.1" fill="none" stroke="#806600" stroke-width="34.63" stroke-linecap="round" stroke-linejoin="round"/><path d="M355.8 245.1L360.1 256.1L363.5 268.2L366 281.3" fill="none" stroke="#6b6600" stroke-width="29.5" stroke-linecap="round" stroke-linejoin="round"/><path d="M339.2 398.2L330 411.4L319.5 423.2" fill="none" stroke="#4a6600" stroke-width="24.37" stroke-linecap="round" stroke-linejoin="round"/><path d="M319.5 423.2L307.9 433.3L295.4 441.4" fill="none" stroke="#5c6600" stroke-width="25.65" stroke-linecap="round" stroke-linejoin="round"/><path d="M295.4 441.4L282 447.4L268.1 451.1" fill="none" stroke="#5c6600" stroke-width="25.65" stroke-linecap="round" stroke-linejoin="round"/><path d="M268.1 451.1L254.8 452.4L241.3 451.5" fill="none" stroke="#4a6600" stroke-width="24.37" stroke-linecap="round" stroke-linejoin="round"/><ellipse cx="301.29" cy="279.64" rx="19" ry="30" fill="#9e0000" transform="rotate(20 301.29 279.64)"/><ellipse cx="299.29" cy="279.64" rx="11" ry="17" fill="#ff0000" transform="rotate(20 299.29 279.64)"/></g></g></g>
</g>
<g transform="translate(1528.1 1431)">
<ellipse cx="285.55" cy="285.25" rx="224.18" ry="151.99" transform="rotate(96 285.55 285.25)" fill="none" stroke="#fff" stroke-width="3.3"/><ellipse cx="285.55" cy="285.25" rx="202.38" ry="137.21" transform="rotate(96 285.55 285.25)" fill="none" stroke="#fff" stroke-width="3.3" stroke-dasharray="3.3 5.4"/><path d="M285.6 265.4L290 279.1L304.5 279.1L292.8 287.6L297.2 301.3L285.6 292.9L273.9 301.3L278.3 287.6L266.6 279.1L281.1 279.1Z" fill="#fff" stroke="#fff" stroke-width="3.3" stroke-linejoin="round"/>
</g>
<path d="M1655.15 1431v13.0M1655.15 2001.5v-13.0M1528.1 1557.75h13.0M2099.2 1557.75h-13.0M1813.65 1431v13.0M1813.65 2001.5v-13.0M1528.1 1716.25h13.0M2099.2 1716.25h-13.0M1972.15 1431v13.0M1972.15 2001.5v-13.0M1528.1 1874.75h13.0M2099.2 1874.75h-13.0" stroke="#fff" stroke-width="3.3"/>
<rect x="1528.1" y="1431" width="571.1" height="570.5" fill="none" stroke="#000" stroke-width="3.3"/>
<text x="1655.15" y="1408.5" text-anchor="middle">0.5</text>
<text x="1813.65" y="1408.5" text-anchor="middle">0.0</text>
<text x="1972.15" y="1408.5" text-anchor="middle">−0.5</text>
<text x="1513.3" y="1570.85" text-anchor="end">0.5</text>
<text x="1513.3" y="1729.35" text-anchor="end">0.0</text>
<text x="1513.3" y="1887.85" text-anchor="end">−0.5</text>
<text x="1655.9" y="1488.1" text-anchor="middle" fill="#fff">WaOph 6</text>
<rect x="1967.6" y="1912.7" width="32" height="6.5" fill="#fff"/>
<text x="1971.6" y="1973.7" fill="#fff">10 au</text>
<ellipse cx="1585.3" cy="1944.5" rx="11.5" ry="10.8" fill="#fff" transform="rotate(0 1585.3 1944.5)"/>
<rect x="1528.1" y="2013.9" width="571.1" height="28.7" fill="url(#inf)" stroke="#000" stroke-width="3.3"/>
<text x="1528.1" y="2083.7" text-anchor="middle">0.0</text>
<text x="1825" y="2083.7" text-anchor="middle">0.2</text>
<text x="1940.6" y="2083.7" text-anchor="middle">0.4</text>
<text x="2060.4" y="2083.7" text-anchor="middle">0.8</text>
<path d="M1825 2042.6v-14.7M1940.6 2042.6v-14.7M2060.4 2042.6v-14.7" stroke="#000" stroke-width="3.3"/>
<text x="1813.05" y="2121.9" text-anchor="middle">Δ<tspan font-style="italic">I</tspan><tspan font-style="italic" font-size="24.22" dy="5.6">ν</tspan><tspan dy="-5.6"> (mJy beam</tspan><tspan font-size="24.22" dy="-12.5">−1</tspan><tspan dy="12.5">)</tspan></text>
<g transform="translate(1540.4 2137.7)">
<g clip-path="url(#cp)"><g filter="url(#px)"><g filter="url(#cm)"><g filter="url(#npb3)"><rect x="-30" y="-30" width="606.7" height="374.7" fill="url(#pb3m)"/><path d="M123 91.8L136.7 71.7" fill="none" stroke="#5e6600" stroke-width="29.74" stroke-linecap="round" stroke-linejoin="round"/><path d="M136.7 71.7L164 44.6" fill="none" stroke="#636600" stroke-width="29.74" stroke-linecap="round" stroke-linejoin="round"/><path d="M164 44.6L191.3 23.6" fill="none" stroke="#5e6600" stroke-width="29.74" stroke-linecap="round" stroke-linejoin="round"/><path d="M191.3 338.3L209.6 315.6" fill="none" stroke="#5a6600" stroke-width="29.74" stroke-linecap="round" stroke-linejoin="round"/><path d="M191.3 23.6L209.6 0.9" fill="none" stroke="#5a6600" stroke-width="29.74" stroke-linecap="round" stroke-linejoin="round"/><path d="M209.6 315.6L227.8 292.8" fill="none" stroke="#556600" stroke-width="29.74" stroke-linecap="round" stroke-linejoin="round"/><path d="M209.6 0.9L227.8 -21.9" fill="none" stroke="#556600" stroke-width="29.74" stroke-linecap="round" stroke-linejoin="round"/><path d="M227.8 292.8L259.7 272.7" fill="none" stroke="#5a6600" stroke-width="31.6" stroke-linecap="round" stroke-linejoin="round"/><path d="M259.7 272.7L287 255.3" fill="none" stroke="#5c6600" stroke-width="33.46" stroke-linecap="round" stroke-linejoin="round"/><path d="M287 255.3L309.8 240.4" fill="none" stroke="#526600" stroke-width="31.6" stroke-linecap="round" stroke-linejoin="round"/><path d="M309.8 240.4L318.9 222.9" fill="none" stroke="#4b6600" stroke-width="29.74" stroke-linecap="round" stroke-linejoin="round"/><path d="M318.9 222.9L323.5 205.4" fill="none" stroke="#456600" stroke-width="29.74" stroke-linecap="round" stroke-linejoin="round"/><path d="M323.5 205.4L323.5 187.9" fill="none" stroke="#376600" stroke-width="29.74" stroke-linecap="round" stroke-linejoin="round"/><path d="M109.3 244.8L136.7 220.3" fill="none" stroke="#6b6600" stroke-width="44.61" stroke-linecap="round" stroke-linejoin="round"/><path d="M136.7 220.3L164 201.1" fill="none" stroke="#796600" stroke-width="50.19" stroke-linecap="round" stroke-linejoin="round"/><path d="M164 201.1L191.3 180.1" fill="none" stroke="#796600" stroke-width="50.19" stroke-linecap="round" stroke-linejoin="round"/><path d="M191.3 180.1L209.6 162.6" fill="none" stroke="#666600" stroke-width="42.75" stroke-linecap="round" stroke-linejoin="round"/><path d="M255.1 115.4L268.8 103.2" fill="none" stroke="#466600" stroke-width="35.32" stroke-linecap="round" stroke-linejoin="round"/><path d="M268.8 103.2L282.5 90.9" fill="none" stroke="#576600" stroke-width="37.18" stroke-linecap="round" stroke-linejoin="round"/><path d="M282.5 90.9L296.1 78.7" fill="none" stroke="#576600" stroke-width="37.18" stroke-linecap="round" stroke-linejoin="round"/><path d="M296.1 78.7L309.8 67.3" fill="none" stroke="#466600" stroke-width="35.32" stroke-linecap="round" stroke-linejoin="round"/><ellipse cx="63.78" cy="275.36" rx="50.11" ry="27.97" fill="#5c0000" opacity="0.9"/><ellipse cx="9.11" cy="253.51" rx="11.39" ry="65.56" fill="#990000"/><ellipse cx="100.23" cy="135.5" rx="27.34" ry="15.73" fill="#660000" transform="rotate(-40 100.23 135.5)"/><ellipse cx="45.56" cy="176.58" rx="54.67" ry="48.08" fill="#b80000"/><ellipse cx="36.45" cy="174.83" rx="29.61" ry="31.47" fill="#ff0000"/></g></g></g></g>
</g>
<rect x="1540.4" y="2137.7" width="546.7" height="314.7" fill="none" stroke="#000" stroke-width="3.3"/>
<g transform="translate(1540.4 2137.7)">
<path d="M398.18 0V314.7" stroke="#fff" stroke-width="3.3"/><path d="M359.46 0V314.7" stroke="#fff" stroke-width="3.3" stroke-dasharray="3.3 5.4"/>
</g>
<text x="1540.4" y="2509" text-anchor="middle">0</text>
<text x="1654.3" y="2509" text-anchor="middle">25</text>
<text x="1768.19" y="2509" text-anchor="middle">50</text>
<text x="1882.09" y="2509" text-anchor="middle">75</text>
<text x="1995.98" y="2509" text-anchor="middle">100</text>
<path d="M1540.4 2137.7h-15.4M1540.4 2216.38h-15.4M1540.4 2295.05h-15.4M1540.4 2373.72h-15.4M1540.4 2452.4h-15.4M1540.4 2452.4v15.2M1654.3 2452.4v15.2M1768.19 2452.4v15.2M1882.09 2452.4v15.2M1995.98 2452.4v15.2" stroke="#000" stroke-width="3.3"/>
<path d="M1540.4 2177.04h-9.1M1540.4 2255.71h-9.1M1540.4 2334.39h-9.1M1540.4 2413.06h-9.1" stroke="#000" stroke-width="2.6"/>
<text class="cap" x="1059.8" y="1263.2" text-anchor="middle">(a)</text>
<text class="cap" x="1119.8" y="2597.6" text-anchor="middle">(b)</text>
</svg></body></html>
